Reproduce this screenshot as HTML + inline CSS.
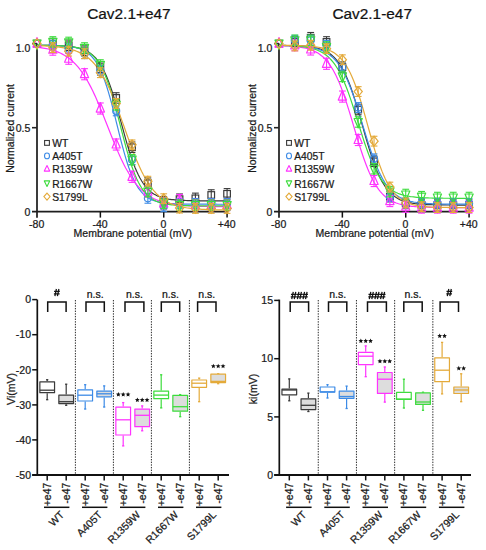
<!DOCTYPE html><html><head><meta charset="utf-8"><style>html,body{margin:0;padding:0;background:#fff;width:486px;height:550px;overflow:hidden}svg{display:block}</style></head><body><svg width="486" height="550" viewBox="0 0 486 550" font-family='"Liberation Sans", sans-serif'>
<style>text{stroke:#1a1a1a;stroke-width:0.24px}</style>
<rect width="486" height="550" fill="#ffffff"/>
<text x="128.9" y="19.2" font-size="15.4" text-anchor="middle" fill="#111" >Cav2.1+e47</text>
<text x="132.8" y="237.1" font-size="10.5" text-anchor="middle" fill="#1a1a1a" >Membrane potential (mV)</text>
<text transform="translate(13.6,128.5) rotate(-90)" font-size="10.5" text-anchor="middle" fill="#1a1a1a">Normalized current</text>
<text x="30.3" y="51.9" font-size="10.5" text-anchor="end" fill="#1a1a1a" >1.0</text>
<text x="30.3" y="131.8" font-size="10.5" text-anchor="end" fill="#1a1a1a" >0.5</text>
<text x="30.3" y="215.7" font-size="10.5" text-anchor="end" fill="#1a1a1a" >0</text>
<text x="36.7" y="227.6" font-size="10.5" text-anchor="middle" fill="#1a1a1a" >-80</text>
<text x="100.06" y="227.6" font-size="10.5" text-anchor="middle" fill="#1a1a1a" >-40</text>
<text x="163.42" y="227.6" font-size="10.5" text-anchor="middle" fill="#1a1a1a" >0</text>
<text x="226.78" y="227.6" font-size="10.5" text-anchor="middle" fill="#1a1a1a" >+40</text>
<line x1="37" y1="43.6" x2="37" y2="217.8" stroke="#262626" stroke-width="1.8" />
<line x1="32" y1="211.7" x2="228.2" y2="211.7" stroke="#1e1e1e" stroke-width="1.7" />
<line x1="32" y1="127.7" x2="37" y2="127.7" stroke="#262626" stroke-width="1.6" />
<line x1="32" y1="43.6" x2="37" y2="43.6" stroke="#262626" stroke-width="1.6" />
<line x1="100.36" y1="211.8" x2="100.36" y2="217.6" stroke="#111" stroke-width="1.5" />
<line x1="163.72" y1="211.8" x2="163.72" y2="217.6" stroke="#111" stroke-width="1.5" />
<line x1="227.08" y1="211.8" x2="227.08" y2="217.6" stroke="#111" stroke-width="1.5" />
<polyline points="37,45.34 38.58,45.35 40.17,45.36 41.75,45.37 43.34,45.38 44.92,45.4 46.5,45.42 48.09,45.44 49.67,45.46 51.26,45.49 52.84,45.53 54.42,45.57 56.01,45.61 57.59,45.67 59.18,45.73 60.76,45.8 62.34,45.88 63.93,45.98 65.51,46.09 67.1,46.22 68.68,46.37 70.26,46.54 71.85,46.75 73.43,46.98 75.02,47.25 76.6,47.56 78.18,47.92 79.77,48.34 81.35,48.82 82.94,49.37 84.52,50.01 86.1,50.75 87.69,51.59 89.27,52.56 90.86,53.66 92.44,54.93 94.02,56.37 95.61,58.01 97.19,59.87 98.78,61.96 100.36,64.32 101.94,66.96 103.53,69.9 105.11,73.15 106.7,76.73 108.28,80.64 109.86,84.88 111.45,89.45 113.03,94.32 114.62,99.46 116.2,104.84 117.78,110.42 119.37,116.13 120.95,121.91 122.54,127.71 124.12,133.46 125.7,139.1 127.29,144.56 128.87,149.81 130.46,154.79 132.04,159.48 133.62,163.85 135.21,167.9 136.79,171.61 138.38,174.99 139.96,178.05 141.54,180.81 143.13,183.27 144.71,185.47 146.3,187.42 147.88,189.15 149.46,190.66 151.05,192 152.63,193.17 154.22,194.19 155.8,195.08 157.38,195.86 158.97,196.53 160.55,197.12 162.14,197.63 163.72,198.07 165.3,198.45 166.89,198.78 168.47,199.07 170.06,199.31 171.64,199.53 173.22,199.71 174.81,199.87 176.39,200.01 177.98,200.13 179.56,200.23 181.14,200.32 182.73,200.39 184.31,200.46 185.9,200.52 187.48,200.56 189.06,200.61 190.65,200.64 192.23,200.67 193.82,200.7 195.4,200.72 196.98,200.74 198.57,200.76 200.15,200.78 201.74,200.79 203.32,200.8 204.9,200.81 206.49,200.82 208.07,200.82 209.66,200.83 211.24,200.83 212.82,200.84 214.41,200.84 215.99,200.85 217.58,200.85 219.16,200.85 220.74,200.85 222.33,200.86 223.91,200.86 225.5,200.86 227.08,200.86" fill="none" stroke="#3a3a3a" stroke-width="1.2"/>
<polyline points="37,45.33 38.58,45.34 40.17,45.35 41.75,45.36 43.34,45.37 44.92,45.39 46.5,45.4 48.09,45.42 49.67,45.45 51.26,45.48 52.84,45.51 54.42,45.55 56.01,45.6 57.59,45.66 59.18,45.72 60.76,45.8 62.34,45.89 63.93,45.99 65.51,46.12 67.1,46.26 68.68,46.43 70.26,46.63 71.85,46.87 73.43,47.14 75.02,47.46 76.6,47.84 78.18,48.28 79.77,48.79 81.35,49.39 82.94,50.09 84.52,50.9 86.1,51.84 87.69,52.94 89.27,54.2 90.86,55.66 92.44,57.34 94.02,59.26 95.61,61.46 97.19,63.96 98.78,66.79 100.36,69.97 101.94,73.52 103.53,77.46 105.11,81.8 106.7,86.53 108.28,91.65 109.86,97.12 111.45,102.9 113.03,108.95 114.62,115.19 116.2,121.55 117.78,127.96 119.37,134.32 120.95,140.57 122.54,146.61 124.12,152.4 125.7,157.86 127.29,162.98 128.87,167.71 130.46,172.05 132.04,175.99 133.62,179.54 135.21,182.72 136.79,185.55 138.38,188.05 139.96,190.25 141.54,192.17 143.13,193.85 144.71,195.31 146.3,196.58 147.88,197.67 149.46,198.61 151.05,199.42 152.63,200.12 154.22,200.72 155.8,201.23 157.38,201.67 158.97,202.05 160.55,202.37 162.14,202.64 163.72,202.88 165.3,203.08 166.89,203.25 168.47,203.39 170.06,203.52 171.64,203.62 173.22,203.71 174.81,203.79 176.39,203.86 177.98,203.91 179.56,203.96 181.14,204 182.73,204.03 184.31,204.06 185.9,204.09 187.48,204.11 189.06,204.13 190.65,204.14 192.23,204.16 193.82,204.17 195.4,204.18 196.98,204.18 198.57,204.19 200.15,204.2 201.74,204.2 203.32,204.21 204.9,204.21 206.49,204.21 208.07,204.22 209.66,204.22 211.24,204.22 212.82,204.22 214.41,204.22 215.99,204.22 217.58,204.23 219.16,204.23 220.74,204.23 222.33,204.23 223.91,204.23 225.5,204.23 227.08,204.23" fill="none" stroke="#3d8be6" stroke-width="1.2"/>
<polyline points="37,47.15 38.58,47.34 40.17,47.55 41.75,47.79 43.34,48.05 44.92,48.33 46.5,48.65 48.09,48.99 49.67,49.37 51.26,49.79 52.84,50.25 54.42,50.76 56.01,51.31 57.59,51.92 59.18,52.58 60.76,53.31 62.34,54.11 63.93,54.98 65.51,55.94 67.1,56.98 68.68,58.11 70.26,59.34 71.85,60.68 73.43,62.13 75.02,63.7 76.6,65.39 78.18,67.22 79.77,69.19 81.35,71.3 82.94,73.55 84.52,75.96 86.1,78.52 87.69,81.24 89.27,84.11 90.86,87.14 92.44,90.31 94.02,93.63 95.61,97.09 97.19,100.67 98.78,104.36 100.36,108.15 101.94,112.03 103.53,115.98 105.11,119.97 106.7,124 108.28,128.04 109.86,132.06 111.45,136.06 113.03,140 114.62,143.88 116.2,147.68 117.78,151.37 119.37,154.95 120.95,158.4 122.54,161.72 124.12,164.9 125.7,167.92 127.29,170.79 128.87,173.51 130.46,176.07 132.04,178.48 133.62,180.74 135.21,182.85 136.79,184.81 138.38,186.64 139.96,188.34 141.54,189.91 143.13,191.36 144.71,192.7 146.3,193.93 147.88,195.06 149.46,196.1 151.05,197.05 152.63,197.92 154.22,198.72 155.8,199.45 157.38,200.12 158.97,200.73 160.55,201.28 162.14,201.79 163.72,202.25 165.3,202.66 166.89,203.04 168.47,203.39 170.06,203.7 171.64,203.99 173.22,204.25 174.81,204.48 176.39,204.7 177.98,204.89 179.56,205.07 181.14,205.22 182.73,205.37 184.31,205.5 185.9,205.62 187.48,205.73 189.06,205.82 190.65,205.91 192.23,205.99 193.82,206.06 195.4,206.13 196.98,206.19 198.57,206.24 200.15,206.29 201.74,206.33 203.32,206.37 204.9,206.41 206.49,206.44 208.07,206.47 209.66,206.5 211.24,206.52 212.82,206.55 214.41,206.57 215.99,206.58 217.58,206.6 219.16,206.61 220.74,206.63 222.33,206.64 223.91,206.65 225.5,206.66 227.08,206.67" fill="none" stroke="#ff33ff" stroke-width="1.2"/>
<polyline points="37,45.33 38.58,45.34 40.17,45.35 41.75,45.36 43.34,45.37 44.92,45.39 46.5,45.41 48.09,45.43 49.67,45.45 51.26,45.48 52.84,45.51 54.42,45.55 56.01,45.59 57.59,45.64 59.18,45.7 60.76,45.77 62.34,45.86 63.93,45.95 65.51,46.06 67.1,46.19 68.68,46.34 70.26,46.52 71.85,46.72 73.43,46.96 75.02,47.23 76.6,47.55 78.18,47.92 79.77,48.35 81.35,48.85 82.94,49.43 84.52,50.1 86.1,50.87 87.69,51.76 89.27,52.79 90.86,53.97 92.44,55.32 94.02,56.87 95.61,58.64 97.19,60.65 98.78,62.93 100.36,65.49 101.94,68.37 103.53,71.58 105.11,75.14 106.7,79.06 108.28,83.35 109.86,88 111.45,92.99 113.03,98.31 114.62,103.91 116.2,109.75 117.78,115.76 119.37,121.89 120.95,128.07 122.54,134.21 124.12,140.26 125.7,146.14 127.29,151.79 128.87,157.16 130.46,162.23 132.04,166.94 133.62,171.3 135.21,175.3 136.79,178.93 138.38,182.21 139.96,185.15 141.54,187.78 143.13,190.11 144.71,192.17 146.3,193.99 147.88,195.58 149.46,196.97 151.05,198.18 152.63,199.24 154.22,200.16 155.8,200.95 157.38,201.64 158.97,202.24 160.55,202.75 162.14,203.19 163.72,203.58 165.3,203.9 166.89,204.19 168.47,204.43 170.06,204.64 171.64,204.82 173.22,204.98 174.81,205.11 176.39,205.22 177.98,205.32 179.56,205.41 181.14,205.48 182.73,205.54 184.31,205.59 185.9,205.64 187.48,205.68 189.06,205.71 190.65,205.74 192.23,205.76 193.82,205.79 195.4,205.8 196.98,205.82 198.57,205.83 200.15,205.84 201.74,205.85 203.32,205.86 204.9,205.87 206.49,205.88 208.07,205.88 209.66,205.89 211.24,205.89 212.82,205.89 214.41,205.9 215.99,205.9 217.58,205.9 219.16,205.9 220.74,205.9 222.33,205.91 223.91,205.91 225.5,205.91 227.08,205.91" fill="none" stroke="#3ddc3d" stroke-width="1.2"/>
<polyline points="37,45.69 38.58,45.74 40.17,45.79 41.75,45.85 43.34,45.91 44.92,45.98 46.5,46.06 48.09,46.15 49.67,46.25 51.26,46.36 52.84,46.48 54.42,46.62 56.01,46.77 57.59,46.94 59.18,47.13 60.76,47.34 62.34,47.58 63.93,47.83 65.51,48.12 67.1,48.44 68.68,48.8 70.26,49.19 71.85,49.63 73.43,50.11 75.02,50.65 76.6,51.24 78.18,51.9 79.77,52.63 81.35,53.43 82.94,54.31 84.52,55.29 86.1,56.36 87.69,57.54 89.27,58.83 90.86,60.24 92.44,61.79 94.02,63.48 95.61,65.31 97.19,67.3 98.78,69.46 100.36,71.79 101.94,74.3 103.53,76.99 105.11,79.87 106.7,82.93 108.28,86.18 109.86,89.61 111.45,93.22 113.03,97 114.62,100.93 116.2,105.01 117.78,109.21 119.37,113.51 120.95,117.89 122.54,122.33 124.12,126.8 125.7,131.28 127.29,135.74 128.87,140.15 130.46,144.48 132.04,148.73 133.62,152.85 135.21,156.84 136.79,160.69 138.38,164.36 139.96,167.87 141.54,171.19 143.13,174.33 144.71,177.28 146.3,180.05 147.88,182.63 149.46,185.03 151.05,187.25 152.63,189.31 154.22,191.21 155.8,192.95 157.38,194.55 158.97,196.02 160.55,197.36 162.14,198.58 163.72,199.7 165.3,200.71 166.89,201.63 168.47,202.46 170.06,203.22 171.64,203.9 173.22,204.52 174.81,205.08 176.39,205.58 177.98,206.04 179.56,206.45 181.14,206.82 182.73,207.15 184.31,207.45 185.9,207.72 187.48,207.97 189.06,208.19 190.65,208.38 192.23,208.56 193.82,208.72 195.4,208.86 196.98,208.99 198.57,209.11 200.15,209.21 201.74,209.3 203.32,209.39 204.9,209.46 206.49,209.53 208.07,209.59 209.66,209.64 211.24,209.69 212.82,209.74 214.41,209.78 215.99,209.81 217.58,209.84 219.16,209.87 220.74,209.9 222.33,209.92 223.91,209.94 225.5,209.96 227.08,209.97" fill="none" stroke="#e4aa3a" stroke-width="1.2"/>
<rect x="33.7" y="40.3" width="6.6" height="6.6" fill="none" stroke="#3a3a3a" stroke-width="1.2"/>
<line x1="52.84" y1="38.38" x2="52.84" y2="48.82" stroke="#3a3a3a" stroke-width="1.1" />
<line x1="49.44" y1="38.38" x2="56.24" y2="38.38" stroke="#3a3a3a" stroke-width="1.1" />
<line x1="49.44" y1="48.82" x2="56.24" y2="48.82" stroke="#3a3a3a" stroke-width="1.1" />
<rect x="49.54" y="40.3" width="6.6" height="6.6" fill="none" stroke="#3a3a3a" stroke-width="1.2"/>
<line x1="68.68" y1="40.06" x2="68.68" y2="50.5" stroke="#3a3a3a" stroke-width="1.1" />
<line x1="65.28" y1="40.06" x2="72.08" y2="40.06" stroke="#3a3a3a" stroke-width="1.1" />
<line x1="65.28" y1="50.5" x2="72.08" y2="50.5" stroke="#3a3a3a" stroke-width="1.1" />
<rect x="65.38" y="41.98" width="6.6" height="6.6" fill="none" stroke="#3a3a3a" stroke-width="1.2"/>
<line x1="84.52" y1="45.11" x2="84.52" y2="55.55" stroke="#3a3a3a" stroke-width="1.1" />
<line x1="81.12" y1="45.11" x2="87.92" y2="45.11" stroke="#3a3a3a" stroke-width="1.1" />
<line x1="81.12" y1="55.55" x2="87.92" y2="55.55" stroke="#3a3a3a" stroke-width="1.1" />
<rect x="81.22" y="47.03" width="6.6" height="6.6" fill="none" stroke="#3a3a3a" stroke-width="1.2"/>
<line x1="100.36" y1="61.93" x2="100.36" y2="72.37" stroke="#3a3a3a" stroke-width="1.1" />
<line x1="96.96" y1="61.93" x2="103.76" y2="61.93" stroke="#3a3a3a" stroke-width="1.1" />
<line x1="96.96" y1="72.37" x2="103.76" y2="72.37" stroke="#3a3a3a" stroke-width="1.1" />
<rect x="97.06" y="63.85" width="6.6" height="6.6" fill="none" stroke="#3a3a3a" stroke-width="1.2"/>
<line x1="116.2" y1="92.71" x2="116.2" y2="103.15" stroke="#3a3a3a" stroke-width="1.1" />
<line x1="112.8" y1="92.71" x2="119.6" y2="92.71" stroke="#3a3a3a" stroke-width="1.1" />
<line x1="112.8" y1="103.15" x2="119.6" y2="103.15" stroke="#3a3a3a" stroke-width="1.1" />
<rect x="112.9" y="94.63" width="6.6" height="6.6" fill="none" stroke="#3a3a3a" stroke-width="1.2"/>
<line x1="132.04" y1="141.99" x2="132.04" y2="152.43" stroke="#3a3a3a" stroke-width="1.1" />
<line x1="128.64" y1="141.99" x2="135.44" y2="141.99" stroke="#3a3a3a" stroke-width="1.1" />
<line x1="128.64" y1="152.43" x2="135.44" y2="152.43" stroke="#3a3a3a" stroke-width="1.1" />
<rect x="128.74" y="143.91" width="6.6" height="6.6" fill="none" stroke="#3a3a3a" stroke-width="1.2"/>
<line x1="147.88" y1="177.99" x2="147.88" y2="188.42" stroke="#3a3a3a" stroke-width="1.1" />
<line x1="144.48" y1="177.99" x2="151.28" y2="177.99" stroke="#3a3a3a" stroke-width="1.1" />
<line x1="144.48" y1="188.42" x2="151.28" y2="188.42" stroke="#3a3a3a" stroke-width="1.1" />
<rect x="144.58" y="179.91" width="6.6" height="6.6" fill="none" stroke="#3a3a3a" stroke-width="1.2"/>
<line x1="163.72" y1="196.49" x2="163.72" y2="206.93" stroke="#3a3a3a" stroke-width="1.1" />
<line x1="160.32" y1="196.49" x2="167.12" y2="196.49" stroke="#3a3a3a" stroke-width="1.1" />
<line x1="160.32" y1="206.93" x2="167.12" y2="206.93" stroke="#3a3a3a" stroke-width="1.1" />
<rect x="160.42" y="198.41" width="6.6" height="6.6" fill="none" stroke="#3a3a3a" stroke-width="1.2"/>
<line x1="179.56" y1="193.97" x2="179.56" y2="204.4" stroke="#3a3a3a" stroke-width="1.1" />
<line x1="176.16" y1="193.97" x2="182.96" y2="193.97" stroke="#3a3a3a" stroke-width="1.1" />
<line x1="176.16" y1="204.4" x2="182.96" y2="204.4" stroke="#3a3a3a" stroke-width="1.1" />
<rect x="176.26" y="195.88" width="6.6" height="6.6" fill="none" stroke="#3a3a3a" stroke-width="1.2"/>
<line x1="195.4" y1="193.13" x2="195.4" y2="203.56" stroke="#3a3a3a" stroke-width="1.1" />
<line x1="192" y1="193.13" x2="198.8" y2="193.13" stroke="#3a3a3a" stroke-width="1.1" />
<line x1="192" y1="203.56" x2="198.8" y2="203.56" stroke="#3a3a3a" stroke-width="1.1" />
<rect x="192.1" y="195.04" width="6.6" height="6.6" fill="none" stroke="#3a3a3a" stroke-width="1.2"/>
<line x1="211.24" y1="189.76" x2="211.24" y2="200.2" stroke="#3a3a3a" stroke-width="1.1" />
<line x1="207.84" y1="189.76" x2="214.64" y2="189.76" stroke="#3a3a3a" stroke-width="1.1" />
<line x1="207.84" y1="200.2" x2="214.64" y2="200.2" stroke="#3a3a3a" stroke-width="1.1" />
<rect x="207.94" y="191.68" width="6.6" height="6.6" fill="none" stroke="#3a3a3a" stroke-width="1.2"/>
<line x1="227.08" y1="188.58" x2="227.08" y2="199.02" stroke="#3a3a3a" stroke-width="1.1" />
<line x1="223.68" y1="188.58" x2="230.48" y2="188.58" stroke="#3a3a3a" stroke-width="1.1" />
<line x1="223.68" y1="199.02" x2="230.48" y2="199.02" stroke="#3a3a3a" stroke-width="1.1" />
<rect x="223.78" y="190.5" width="6.6" height="6.6" fill="none" stroke="#3a3a3a" stroke-width="1.2"/>
<ellipse cx="37" cy="43.6" rx="3.5" ry="3.5" fill="none" stroke="#3d8be6" stroke-width="1.2"/>
<line x1="52.84" y1="40.4" x2="52.84" y2="50.16" stroke="#3d8be6" stroke-width="1.1" />
<line x1="49.44" y1="40.4" x2="56.24" y2="40.4" stroke="#3d8be6" stroke-width="1.1" />
<line x1="49.44" y1="50.16" x2="56.24" y2="50.16" stroke="#3d8be6" stroke-width="1.1" />
<ellipse cx="52.84" cy="45.28" rx="3.5" ry="3.5" fill="none" stroke="#3d8be6" stroke-width="1.2"/>
<line x1="68.68" y1="43.76" x2="68.68" y2="53.53" stroke="#3d8be6" stroke-width="1.1" />
<line x1="65.28" y1="43.76" x2="72.08" y2="43.76" stroke="#3d8be6" stroke-width="1.1" />
<line x1="65.28" y1="53.53" x2="72.08" y2="53.53" stroke="#3d8be6" stroke-width="1.1" />
<ellipse cx="68.68" cy="48.65" rx="3.5" ry="3.5" fill="none" stroke="#3d8be6" stroke-width="1.2"/>
<line x1="84.52" y1="48.81" x2="84.52" y2="58.57" stroke="#3d8be6" stroke-width="1.1" />
<line x1="81.12" y1="48.81" x2="87.92" y2="48.81" stroke="#3d8be6" stroke-width="1.1" />
<line x1="81.12" y1="58.57" x2="87.92" y2="58.57" stroke="#3d8be6" stroke-width="1.1" />
<ellipse cx="84.52" cy="53.69" rx="3.5" ry="3.5" fill="none" stroke="#3d8be6" stroke-width="1.2"/>
<line x1="100.36" y1="65.63" x2="100.36" y2="75.39" stroke="#3d8be6" stroke-width="1.1" />
<line x1="96.96" y1="65.63" x2="103.76" y2="65.63" stroke="#3d8be6" stroke-width="1.1" />
<line x1="96.96" y1="75.39" x2="103.76" y2="75.39" stroke="#3d8be6" stroke-width="1.1" />
<ellipse cx="100.36" cy="70.51" rx="3.5" ry="3.5" fill="none" stroke="#3d8be6" stroke-width="1.2"/>
<line x1="116.2" y1="106" x2="116.2" y2="115.76" stroke="#3d8be6" stroke-width="1.1" />
<line x1="112.8" y1="106" x2="119.6" y2="106" stroke="#3d8be6" stroke-width="1.1" />
<line x1="112.8" y1="115.76" x2="119.6" y2="115.76" stroke="#3d8be6" stroke-width="1.1" />
<ellipse cx="116.2" cy="110.88" rx="3.5" ry="3.5" fill="none" stroke="#3d8be6" stroke-width="1.2"/>
<line x1="132.04" y1="154.78" x2="132.04" y2="164.54" stroke="#3d8be6" stroke-width="1.1" />
<line x1="128.64" y1="154.78" x2="135.44" y2="154.78" stroke="#3d8be6" stroke-width="1.1" />
<line x1="128.64" y1="164.54" x2="135.44" y2="164.54" stroke="#3d8be6" stroke-width="1.1" />
<ellipse cx="132.04" cy="159.66" rx="3.5" ry="3.5" fill="none" stroke="#3d8be6" stroke-width="1.2"/>
<line x1="147.88" y1="193.46" x2="147.88" y2="203.23" stroke="#3d8be6" stroke-width="1.1" />
<line x1="144.48" y1="193.46" x2="151.28" y2="193.46" stroke="#3d8be6" stroke-width="1.1" />
<line x1="144.48" y1="203.23" x2="151.28" y2="203.23" stroke="#3d8be6" stroke-width="1.1" />
<ellipse cx="147.88" cy="198.34" rx="3.5" ry="3.5" fill="none" stroke="#3d8be6" stroke-width="1.2"/>
<line x1="163.72" y1="201.87" x2="163.72" y2="211.64" stroke="#3d8be6" stroke-width="1.1" />
<line x1="160.32" y1="201.87" x2="167.12" y2="201.87" stroke="#3d8be6" stroke-width="1.1" />
<line x1="160.32" y1="211.64" x2="167.12" y2="211.64" stroke="#3d8be6" stroke-width="1.1" />
<ellipse cx="163.72" cy="206.75" rx="3.5" ry="3.5" fill="none" stroke="#3d8be6" stroke-width="1.2"/>
<line x1="179.56" y1="198.51" x2="179.56" y2="208.27" stroke="#3d8be6" stroke-width="1.1" />
<line x1="176.16" y1="198.51" x2="182.96" y2="198.51" stroke="#3d8be6" stroke-width="1.1" />
<line x1="176.16" y1="208.27" x2="182.96" y2="208.27" stroke="#3d8be6" stroke-width="1.1" />
<ellipse cx="179.56" cy="203.39" rx="3.5" ry="3.5" fill="none" stroke="#3d8be6" stroke-width="1.2"/>
<line x1="195.4" y1="198.51" x2="195.4" y2="208.27" stroke="#3d8be6" stroke-width="1.1" />
<line x1="192" y1="198.51" x2="198.8" y2="198.51" stroke="#3d8be6" stroke-width="1.1" />
<line x1="192" y1="208.27" x2="198.8" y2="208.27" stroke="#3d8be6" stroke-width="1.1" />
<ellipse cx="195.4" cy="203.39" rx="3.5" ry="3.5" fill="none" stroke="#3d8be6" stroke-width="1.2"/>
<line x1="211.24" y1="198.51" x2="211.24" y2="208.27" stroke="#3d8be6" stroke-width="1.1" />
<line x1="207.84" y1="198.51" x2="214.64" y2="198.51" stroke="#3d8be6" stroke-width="1.1" />
<line x1="207.84" y1="208.27" x2="214.64" y2="208.27" stroke="#3d8be6" stroke-width="1.1" />
<ellipse cx="211.24" cy="203.39" rx="3.5" ry="3.5" fill="none" stroke="#3d8be6" stroke-width="1.2"/>
<line x1="227.08" y1="198.51" x2="227.08" y2="208.27" stroke="#3d8be6" stroke-width="1.1" />
<line x1="223.68" y1="198.51" x2="230.48" y2="198.51" stroke="#3d8be6" stroke-width="1.1" />
<line x1="223.68" y1="208.27" x2="230.48" y2="208.27" stroke="#3d8be6" stroke-width="1.1" />
<ellipse cx="227.08" cy="203.39" rx="3.5" ry="3.5" fill="none" stroke="#3d8be6" stroke-width="1.2"/>
<path d="M37 37.6 L41.1 47.1 L32.9 47.1 Z" fill="none" stroke="#ff33ff" stroke-width="1.2" stroke-linejoin="round"/>
<line x1="52.84" y1="44.1" x2="52.84" y2="55.21" stroke="#ff33ff" stroke-width="1.1" />
<line x1="49.44" y1="44.1" x2="56.24" y2="44.1" stroke="#ff33ff" stroke-width="1.1" />
<line x1="49.44" y1="55.21" x2="56.24" y2="55.21" stroke="#ff33ff" stroke-width="1.1" />
<path d="M52.84 43.66 L56.94 53.16 L48.74 53.16 Z" fill="none" stroke="#ff33ff" stroke-width="1.2" stroke-linejoin="round"/>
<line x1="68.68" y1="53.18" x2="68.68" y2="64.29" stroke="#ff33ff" stroke-width="1.1" />
<line x1="65.28" y1="53.18" x2="72.08" y2="53.18" stroke="#ff33ff" stroke-width="1.1" />
<line x1="65.28" y1="64.29" x2="72.08" y2="64.29" stroke="#ff33ff" stroke-width="1.1" />
<path d="M68.68 52.74 L72.78 62.24 L64.58 62.24 Z" fill="none" stroke="#ff33ff" stroke-width="1.2" stroke-linejoin="round"/>
<line x1="84.52" y1="68.66" x2="84.52" y2="79.77" stroke="#ff33ff" stroke-width="1.1" />
<line x1="81.12" y1="68.66" x2="87.92" y2="68.66" stroke="#ff33ff" stroke-width="1.1" />
<line x1="81.12" y1="79.77" x2="87.92" y2="79.77" stroke="#ff33ff" stroke-width="1.1" />
<path d="M84.52 68.21 L88.62 77.71 L80.42 77.71 Z" fill="none" stroke="#ff33ff" stroke-width="1.2" stroke-linejoin="round"/>
<line x1="100.36" y1="102.97" x2="100.36" y2="114.08" stroke="#ff33ff" stroke-width="1.1" />
<line x1="96.96" y1="102.97" x2="103.76" y2="102.97" stroke="#ff33ff" stroke-width="1.1" />
<line x1="96.96" y1="114.08" x2="103.76" y2="114.08" stroke="#ff33ff" stroke-width="1.1" />
<path d="M100.36 102.53 L104.46 112.03 L96.26 112.03 Z" fill="none" stroke="#ff33ff" stroke-width="1.2" stroke-linejoin="round"/>
<line x1="116.2" y1="138.97" x2="116.2" y2="150.07" stroke="#ff33ff" stroke-width="1.1" />
<line x1="112.8" y1="138.97" x2="119.6" y2="138.97" stroke="#ff33ff" stroke-width="1.1" />
<line x1="112.8" y1="150.07" x2="119.6" y2="150.07" stroke="#ff33ff" stroke-width="1.1" />
<path d="M116.2 138.52 L120.3 148.02 L112.1 148.02 Z" fill="none" stroke="#ff33ff" stroke-width="1.2" stroke-linejoin="round"/>
<line x1="132.04" y1="171.26" x2="132.04" y2="182.37" stroke="#ff33ff" stroke-width="1.1" />
<line x1="128.64" y1="171.26" x2="135.44" y2="171.26" stroke="#ff33ff" stroke-width="1.1" />
<line x1="128.64" y1="182.37" x2="135.44" y2="182.37" stroke="#ff33ff" stroke-width="1.1" />
<path d="M132.04 170.81 L136.14 180.31 L127.94 180.31 Z" fill="none" stroke="#ff33ff" stroke-width="1.2" stroke-linejoin="round"/>
<line x1="147.88" y1="186.06" x2="147.88" y2="197.17" stroke="#ff33ff" stroke-width="1.1" />
<line x1="144.48" y1="186.06" x2="151.28" y2="186.06" stroke="#ff33ff" stroke-width="1.1" />
<line x1="144.48" y1="197.17" x2="151.28" y2="197.17" stroke="#ff33ff" stroke-width="1.1" />
<path d="M147.88 185.62 L151.98 195.12 L143.78 195.12 Z" fill="none" stroke="#ff33ff" stroke-width="1.2" stroke-linejoin="round"/>
<line x1="163.72" y1="197.84" x2="163.72" y2="208.94" stroke="#ff33ff" stroke-width="1.1" />
<line x1="160.32" y1="197.84" x2="167.12" y2="197.84" stroke="#ff33ff" stroke-width="1.1" />
<line x1="160.32" y1="208.94" x2="167.12" y2="208.94" stroke="#ff33ff" stroke-width="1.1" />
<path d="M163.72 197.39 L167.82 206.89 L159.62 206.89 Z" fill="none" stroke="#ff33ff" stroke-width="1.2" stroke-linejoin="round"/>
<line x1="179.56" y1="194.47" x2="179.56" y2="205.58" stroke="#ff33ff" stroke-width="1.1" />
<line x1="176.16" y1="194.47" x2="182.96" y2="194.47" stroke="#ff33ff" stroke-width="1.1" />
<line x1="176.16" y1="205.58" x2="182.96" y2="205.58" stroke="#ff33ff" stroke-width="1.1" />
<path d="M179.56 194.03 L183.66 203.53 L175.46 203.53 Z" fill="none" stroke="#ff33ff" stroke-width="1.2" stroke-linejoin="round"/>
<line x1="195.4" y1="199.52" x2="195.4" y2="210.63" stroke="#ff33ff" stroke-width="1.1" />
<line x1="192" y1="199.52" x2="198.8" y2="199.52" stroke="#ff33ff" stroke-width="1.1" />
<line x1="192" y1="210.63" x2="198.8" y2="210.63" stroke="#ff33ff" stroke-width="1.1" />
<path d="M195.4 199.07 L199.5 208.57 L191.3 208.57 Z" fill="none" stroke="#ff33ff" stroke-width="1.2" stroke-linejoin="round"/>
<line x1="211.24" y1="199.52" x2="211.24" y2="210.63" stroke="#ff33ff" stroke-width="1.1" />
<line x1="207.84" y1="199.52" x2="214.64" y2="199.52" stroke="#ff33ff" stroke-width="1.1" />
<line x1="207.84" y1="210.63" x2="214.64" y2="210.63" stroke="#ff33ff" stroke-width="1.1" />
<path d="M211.24 199.07 L215.34 208.57 L207.14 208.57 Z" fill="none" stroke="#ff33ff" stroke-width="1.2" stroke-linejoin="round"/>
<line x1="227.08" y1="199.52" x2="227.08" y2="210.63" stroke="#ff33ff" stroke-width="1.1" />
<line x1="223.68" y1="199.52" x2="230.48" y2="199.52" stroke="#ff33ff" stroke-width="1.1" />
<line x1="223.68" y1="210.63" x2="230.48" y2="210.63" stroke="#ff33ff" stroke-width="1.1" />
<path d="M227.08 199.07 L231.18 208.57 L222.98 208.57 Z" fill="none" stroke="#ff33ff" stroke-width="1.2" stroke-linejoin="round"/>
<path d="M37 49.6 L41.1 40.1 L32.9 40.1 Z" fill="none" stroke="#3ddc3d" stroke-width="1.2" stroke-linejoin="round"/>
<line x1="52.84" y1="36.7" x2="52.84" y2="47.14" stroke="#3ddc3d" stroke-width="1.1" />
<line x1="49.44" y1="36.7" x2="56.24" y2="36.7" stroke="#3ddc3d" stroke-width="1.1" />
<line x1="49.44" y1="47.14" x2="56.24" y2="47.14" stroke="#3ddc3d" stroke-width="1.1" />
<path d="M52.84 47.92 L56.94 38.42 L48.74 38.42 Z" fill="none" stroke="#3ddc3d" stroke-width="1.2" stroke-linejoin="round"/>
<line x1="68.68" y1="37.2" x2="68.68" y2="47.64" stroke="#3ddc3d" stroke-width="1.1" />
<line x1="65.28" y1="37.2" x2="72.08" y2="37.2" stroke="#3ddc3d" stroke-width="1.1" />
<line x1="65.28" y1="47.64" x2="72.08" y2="47.64" stroke="#3ddc3d" stroke-width="1.1" />
<path d="M68.68 48.42 L72.78 38.92 L64.58 38.92 Z" fill="none" stroke="#3ddc3d" stroke-width="1.2" stroke-linejoin="round"/>
<line x1="84.52" y1="42.75" x2="84.52" y2="53.19" stroke="#3ddc3d" stroke-width="1.1" />
<line x1="81.12" y1="42.75" x2="87.92" y2="42.75" stroke="#3ddc3d" stroke-width="1.1" />
<line x1="81.12" y1="53.19" x2="87.92" y2="53.19" stroke="#3ddc3d" stroke-width="1.1" />
<path d="M84.52 53.97 L88.62 44.47 L80.42 44.47 Z" fill="none" stroke="#3ddc3d" stroke-width="1.2" stroke-linejoin="round"/>
<line x1="100.36" y1="59.74" x2="100.36" y2="70.18" stroke="#3ddc3d" stroke-width="1.1" />
<line x1="96.96" y1="59.74" x2="103.76" y2="59.74" stroke="#3ddc3d" stroke-width="1.1" />
<line x1="96.96" y1="70.18" x2="103.76" y2="70.18" stroke="#3ddc3d" stroke-width="1.1" />
<path d="M100.36 70.96 L104.46 61.46 L96.26 61.46 Z" fill="none" stroke="#3ddc3d" stroke-width="1.2" stroke-linejoin="round"/>
<line x1="116.2" y1="99.61" x2="116.2" y2="110.04" stroke="#3ddc3d" stroke-width="1.1" />
<line x1="112.8" y1="99.61" x2="119.6" y2="99.61" stroke="#3ddc3d" stroke-width="1.1" />
<line x1="112.8" y1="110.04" x2="119.6" y2="110.04" stroke="#3ddc3d" stroke-width="1.1" />
<path d="M116.2 110.82 L120.3 101.32 L112.1 101.32 Z" fill="none" stroke="#3ddc3d" stroke-width="1.2" stroke-linejoin="round"/>
<line x1="132.04" y1="154.44" x2="132.04" y2="164.88" stroke="#3ddc3d" stroke-width="1.1" />
<line x1="128.64" y1="154.44" x2="135.44" y2="154.44" stroke="#3ddc3d" stroke-width="1.1" />
<line x1="128.64" y1="164.88" x2="135.44" y2="164.88" stroke="#3ddc3d" stroke-width="1.1" />
<path d="M132.04 165.66 L136.14 156.16 L127.94 156.16 Z" fill="none" stroke="#3ddc3d" stroke-width="1.2" stroke-linejoin="round"/>
<line x1="147.88" y1="186.4" x2="147.88" y2="196.83" stroke="#3ddc3d" stroke-width="1.1" />
<line x1="144.48" y1="186.4" x2="151.28" y2="186.4" stroke="#3ddc3d" stroke-width="1.1" />
<line x1="144.48" y1="196.83" x2="151.28" y2="196.83" stroke="#3ddc3d" stroke-width="1.1" />
<path d="M147.88 197.62 L151.98 188.12 L143.78 188.12 Z" fill="none" stroke="#3ddc3d" stroke-width="1.2" stroke-linejoin="round"/>
<line x1="163.72" y1="198.17" x2="163.72" y2="208.61" stroke="#3ddc3d" stroke-width="1.1" />
<line x1="160.32" y1="198.17" x2="167.12" y2="198.17" stroke="#3ddc3d" stroke-width="1.1" />
<line x1="160.32" y1="208.61" x2="167.12" y2="208.61" stroke="#3ddc3d" stroke-width="1.1" />
<path d="M163.72 209.39 L167.82 199.89 L159.62 199.89 Z" fill="none" stroke="#3ddc3d" stroke-width="1.2" stroke-linejoin="round"/>
<line x1="179.56" y1="199.85" x2="179.56" y2="210.29" stroke="#3ddc3d" stroke-width="1.1" />
<line x1="176.16" y1="199.85" x2="182.96" y2="199.85" stroke="#3ddc3d" stroke-width="1.1" />
<line x1="176.16" y1="210.29" x2="182.96" y2="210.29" stroke="#3ddc3d" stroke-width="1.1" />
<path d="M179.56 211.07 L183.66 201.57 L175.46 201.57 Z" fill="none" stroke="#3ddc3d" stroke-width="1.2" stroke-linejoin="round"/>
<line x1="195.4" y1="199.85" x2="195.4" y2="210.29" stroke="#3ddc3d" stroke-width="1.1" />
<line x1="192" y1="199.85" x2="198.8" y2="199.85" stroke="#3ddc3d" stroke-width="1.1" />
<line x1="192" y1="210.29" x2="198.8" y2="210.29" stroke="#3ddc3d" stroke-width="1.1" />
<path d="M195.4 211.07 L199.5 201.57 L191.3 201.57 Z" fill="none" stroke="#3ddc3d" stroke-width="1.2" stroke-linejoin="round"/>
<line x1="211.24" y1="199.85" x2="211.24" y2="210.29" stroke="#3ddc3d" stroke-width="1.1" />
<line x1="207.84" y1="199.85" x2="214.64" y2="199.85" stroke="#3ddc3d" stroke-width="1.1" />
<line x1="207.84" y1="210.29" x2="214.64" y2="210.29" stroke="#3ddc3d" stroke-width="1.1" />
<path d="M211.24 211.07 L215.34 201.57 L207.14 201.57 Z" fill="none" stroke="#3ddc3d" stroke-width="1.2" stroke-linejoin="round"/>
<line x1="227.08" y1="199.85" x2="227.08" y2="210.29" stroke="#3ddc3d" stroke-width="1.1" />
<line x1="223.68" y1="199.85" x2="230.48" y2="199.85" stroke="#3ddc3d" stroke-width="1.1" />
<line x1="223.68" y1="210.29" x2="230.48" y2="210.29" stroke="#3ddc3d" stroke-width="1.1" />
<path d="M227.08 211.07 L231.18 201.57 L222.98 201.57 Z" fill="none" stroke="#3ddc3d" stroke-width="1.2" stroke-linejoin="round"/>
<path d="M37 38.7 L41.1 43.6 L37 48.5 L32.9 43.6 Z" fill="none" stroke="#e4aa3a" stroke-width="1.2"/>
<line x1="52.84" y1="42.75" x2="52.84" y2="52.52" stroke="#e4aa3a" stroke-width="1.1" />
<line x1="49.44" y1="42.75" x2="56.24" y2="42.75" stroke="#e4aa3a" stroke-width="1.1" />
<line x1="49.44" y1="52.52" x2="56.24" y2="52.52" stroke="#e4aa3a" stroke-width="1.1" />
<path d="M52.84 42.74 L56.94 47.64 L52.84 52.54 L48.74 47.64 Z" fill="none" stroke="#e4aa3a" stroke-width="1.2"/>
<line x1="68.68" y1="46.29" x2="68.68" y2="56.05" stroke="#e4aa3a" stroke-width="1.1" />
<line x1="65.28" y1="46.29" x2="72.08" y2="46.29" stroke="#e4aa3a" stroke-width="1.1" />
<line x1="65.28" y1="56.05" x2="72.08" y2="56.05" stroke="#e4aa3a" stroke-width="1.1" />
<path d="M68.68 46.27 L72.78 51.17 L68.68 56.07 L64.58 51.17 Z" fill="none" stroke="#e4aa3a" stroke-width="1.2"/>
<line x1="84.52" y1="48.81" x2="84.52" y2="58.57" stroke="#e4aa3a" stroke-width="1.1" />
<line x1="81.12" y1="48.81" x2="87.92" y2="48.81" stroke="#e4aa3a" stroke-width="1.1" />
<line x1="81.12" y1="58.57" x2="87.92" y2="58.57" stroke="#e4aa3a" stroke-width="1.1" />
<path d="M84.52 48.79 L88.62 53.69 L84.52 58.59 L80.42 53.69 Z" fill="none" stroke="#e4aa3a" stroke-width="1.2"/>
<line x1="100.36" y1="67.82" x2="100.36" y2="77.58" stroke="#e4aa3a" stroke-width="1.1" />
<line x1="96.96" y1="67.82" x2="103.76" y2="67.82" stroke="#e4aa3a" stroke-width="1.1" />
<line x1="96.96" y1="77.58" x2="103.76" y2="77.58" stroke="#e4aa3a" stroke-width="1.1" />
<path d="M100.36 67.8 L104.46 72.7 L100.36 77.6 L96.26 72.7 Z" fill="none" stroke="#e4aa3a" stroke-width="1.2"/>
<line x1="116.2" y1="98.6" x2="116.2" y2="108.36" stroke="#e4aa3a" stroke-width="1.1" />
<line x1="112.8" y1="98.6" x2="119.6" y2="98.6" stroke="#e4aa3a" stroke-width="1.1" />
<line x1="112.8" y1="108.36" x2="119.6" y2="108.36" stroke="#e4aa3a" stroke-width="1.1" />
<path d="M116.2 98.58 L120.3 103.48 L116.2 108.38 L112.1 103.48 Z" fill="none" stroke="#e4aa3a" stroke-width="1.2"/>
<line x1="132.04" y1="139.97" x2="132.04" y2="149.74" stroke="#e4aa3a" stroke-width="1.1" />
<line x1="128.64" y1="139.97" x2="135.44" y2="139.97" stroke="#e4aa3a" stroke-width="1.1" />
<line x1="128.64" y1="149.74" x2="135.44" y2="149.74" stroke="#e4aa3a" stroke-width="1.1" />
<path d="M132.04 139.96 L136.14 144.86 L132.04 149.76 L127.94 144.86 Z" fill="none" stroke="#e4aa3a" stroke-width="1.2"/>
<line x1="147.88" y1="176.31" x2="147.88" y2="186.07" stroke="#e4aa3a" stroke-width="1.1" />
<line x1="144.48" y1="176.31" x2="151.28" y2="176.31" stroke="#e4aa3a" stroke-width="1.1" />
<line x1="144.48" y1="186.07" x2="151.28" y2="186.07" stroke="#e4aa3a" stroke-width="1.1" />
<path d="M147.88 176.29 L151.98 181.19 L147.88 186.09 L143.78 181.19 Z" fill="none" stroke="#e4aa3a" stroke-width="1.2"/>
<line x1="163.72" y1="193.8" x2="163.72" y2="203.56" stroke="#e4aa3a" stroke-width="1.1" />
<line x1="160.32" y1="193.8" x2="167.12" y2="193.8" stroke="#e4aa3a" stroke-width="1.1" />
<line x1="160.32" y1="203.56" x2="167.12" y2="203.56" stroke="#e4aa3a" stroke-width="1.1" />
<path d="M163.72 193.78 L167.82 198.68 L163.72 203.58 L159.62 198.68 Z" fill="none" stroke="#e4aa3a" stroke-width="1.2"/>
<line x1="179.56" y1="203.22" x2="179.56" y2="212.98" stroke="#e4aa3a" stroke-width="1.1" />
<line x1="176.16" y1="203.22" x2="182.96" y2="203.22" stroke="#e4aa3a" stroke-width="1.1" />
<line x1="176.16" y1="212.98" x2="182.96" y2="212.98" stroke="#e4aa3a" stroke-width="1.1" />
<path d="M179.56 203.2 L183.66 208.1 L179.56 213 L175.46 208.1 Z" fill="none" stroke="#e4aa3a" stroke-width="1.2"/>
<line x1="195.4" y1="203.55" x2="195.4" y2="213.32" stroke="#e4aa3a" stroke-width="1.1" />
<line x1="192" y1="203.55" x2="198.8" y2="203.55" stroke="#e4aa3a" stroke-width="1.1" />
<line x1="192" y1="213.32" x2="198.8" y2="213.32" stroke="#e4aa3a" stroke-width="1.1" />
<path d="M195.4 203.54 L199.5 208.44 L195.4 213.34 L191.3 208.44 Z" fill="none" stroke="#e4aa3a" stroke-width="1.2"/>
<line x1="211.24" y1="203.55" x2="211.24" y2="213.32" stroke="#e4aa3a" stroke-width="1.1" />
<line x1="207.84" y1="203.55" x2="214.64" y2="203.55" stroke="#e4aa3a" stroke-width="1.1" />
<line x1="207.84" y1="213.32" x2="214.64" y2="213.32" stroke="#e4aa3a" stroke-width="1.1" />
<path d="M211.24 203.54 L215.34 208.44 L211.24 213.34 L207.14 208.44 Z" fill="none" stroke="#e4aa3a" stroke-width="1.2"/>
<line x1="227.08" y1="203.55" x2="227.08" y2="213.32" stroke="#e4aa3a" stroke-width="1.1" />
<line x1="223.68" y1="203.55" x2="230.48" y2="203.55" stroke="#e4aa3a" stroke-width="1.1" />
<line x1="223.68" y1="213.32" x2="230.48" y2="213.32" stroke="#e4aa3a" stroke-width="1.1" />
<path d="M227.08 203.54 L231.18 208.44 L227.08 213.34 L222.98 208.44 Z" fill="none" stroke="#e4aa3a" stroke-width="1.2"/>
<rect x="44.6" y="140.5" width="4.8" height="4.8" fill="none" stroke="#3a3a3a" stroke-width="1.1"/>
<text x="52.2" y="147" font-size="10.3" text-anchor="start" fill="#1a1a1a" >WT</text>
<ellipse cx="47" cy="155.9" rx="2.5" ry="2.9" fill="none" stroke="#3d8be6" stroke-width="1.1"/>
<text x="52.2" y="160" font-size="10.3" text-anchor="start" fill="#1a1a1a" >A405T</text>
<path d="M47 165.5 L49.7 171.1 L44.3 171.1 Z" fill="none" stroke="#ff33ff" stroke-width="1.1" stroke-linejoin="round"/>
<text x="52.2" y="172.7" font-size="10.3" text-anchor="start" fill="#1a1a1a" >R1359W</text>
<path d="M47 186.5 L49.7 180.9 L44.3 180.9 Z" fill="none" stroke="#3ddc3d" stroke-width="1.1" stroke-linejoin="round"/>
<text x="52.2" y="187.5" font-size="10.3" text-anchor="start" fill="#1a1a1a" >R1667W</text>
<path d="M47 193.1 L50.1 196.6 L47 200.1 L43.9 196.6 Z" fill="none" stroke="#e4aa3a" stroke-width="1.1"/>
<text x="52.2" y="200.7" font-size="10.3" text-anchor="start" fill="#1a1a1a" >S1799L</text>
<text x="372.2" y="19.2" font-size="15.4" text-anchor="middle" fill="#111" >Cav2.1-e47</text>
<text x="374.8" y="237.1" font-size="10.5" text-anchor="middle" fill="#1a1a1a" >Membrane potential (mV)</text>
<text transform="translate(255.6,128.5) rotate(-90)" font-size="10.5" text-anchor="middle" fill="#1a1a1a">Normalized current</text>
<text x="272.3" y="51.9" font-size="10.5" text-anchor="end" fill="#1a1a1a" >1.0</text>
<text x="272.3" y="131.8" font-size="10.5" text-anchor="end" fill="#1a1a1a" >0.5</text>
<text x="272.3" y="215.7" font-size="10.5" text-anchor="end" fill="#1a1a1a" >0</text>
<text x="278.7" y="227.6" font-size="10.5" text-anchor="middle" fill="#1a1a1a" >-80</text>
<text x="342.06" y="227.6" font-size="10.5" text-anchor="middle" fill="#1a1a1a" >-40</text>
<text x="405.42" y="227.6" font-size="10.5" text-anchor="middle" fill="#1a1a1a" >0</text>
<text x="468.78" y="227.6" font-size="10.5" text-anchor="middle" fill="#1a1a1a" >+40</text>
<line x1="279" y1="43.6" x2="279" y2="217.8" stroke="#262626" stroke-width="1.8" />
<line x1="274" y1="211.7" x2="470.2" y2="211.7" stroke="#1e1e1e" stroke-width="1.7" />
<line x1="274" y1="127.7" x2="279" y2="127.7" stroke="#262626" stroke-width="1.6" />
<line x1="274" y1="43.6" x2="279" y2="43.6" stroke="#262626" stroke-width="1.6" />
<line x1="342.36" y1="211.8" x2="342.36" y2="217.6" stroke="#111" stroke-width="1.5" />
<line x1="405.72" y1="211.8" x2="405.72" y2="217.6" stroke="#111" stroke-width="1.5" />
<line x1="469.08" y1="211.8" x2="469.08" y2="217.6" stroke="#111" stroke-width="1.5" />
<polyline points="279,45.38 280.58,45.39 282.17,45.41 283.75,45.43 285.34,45.45 286.92,45.48 288.5,45.51 290.09,45.54 291.67,45.58 293.26,45.63 294.84,45.68 296.42,45.74 298.01,45.81 299.59,45.88 301.18,45.97 302.76,46.08 304.34,46.2 305.93,46.34 307.51,46.49 309.1,46.68 310.68,46.89 312.26,47.13 313.85,47.4 315.43,47.72 317.02,48.08 318.6,48.49 320.18,48.97 321.77,49.51 323.35,50.13 324.94,50.84 326.52,51.64 328.1,52.56 329.69,53.6 331.27,54.79 332.86,56.13 334.44,57.64 336.02,59.35 337.61,61.26 339.19,63.4 340.78,65.79 342.36,68.45 343.94,71.38 345.53,74.6 347.11,78.12 348.7,81.95 350.28,86.08 351.86,90.5 353.45,95.21 355.03,100.16 356.62,105.35 358.2,110.71 359.78,116.21 361.37,121.8 362.95,127.43 364.54,133.03 366.12,138.55 367.7,143.95 369.29,149.17 370.87,154.18 372.46,158.93 374.04,163.41 375.62,167.6 377.21,171.49 378.79,175.07 380.38,178.36 381.96,181.34 383.54,184.05 385.13,186.49 386.71,188.68 388.3,190.64 389.88,192.39 391.46,193.94 393.05,195.31 394.63,196.52 396.22,197.59 397.8,198.54 399.38,199.36 400.97,200.09 402.55,200.73 404.14,201.29 405.72,201.77 407.3,202.2 408.89,202.57 410.47,202.89 412.06,203.18 413.64,203.42 415.22,203.64 416.81,203.82 418.39,203.99 419.98,204.13 421.56,204.25 423.14,204.36 424.73,204.45 426.31,204.53 427.9,204.6 429.48,204.67 431.06,204.72 432.65,204.77 434.23,204.81 435.82,204.84 437.4,204.87 438.98,204.9 440.57,204.92 442.15,204.94 443.74,204.96 445.32,204.97 446.9,204.99 448.49,205 450.07,205.01 451.66,205.02 453.24,205.02 454.82,205.03 456.41,205.03 457.99,205.04 459.58,205.04 461.16,205.05 462.74,205.05 464.33,205.05 465.91,205.06 467.5,205.06 469.08,205.06" fill="none" stroke="#3a3a3a" stroke-width="1.2"/>
<polyline points="279,45.43 280.58,45.46 282.17,45.48 283.75,45.51 285.34,45.54 286.92,45.58 288.5,45.62 290.09,45.66 291.67,45.72 293.26,45.78 294.84,45.85 296.42,45.93 298.01,46.02 299.59,46.12 301.18,46.24 302.76,46.37 304.34,46.53 305.93,46.7 307.51,46.9 309.1,47.12 310.68,47.38 312.26,47.67 313.85,48 315.43,48.37 317.02,48.8 318.6,49.28 320.18,49.82 321.77,50.44 323.35,51.14 324.94,51.93 326.52,52.82 328.1,53.82 329.69,54.95 331.27,56.22 332.86,57.64 334.44,59.22 336.02,60.99 337.61,62.95 339.19,65.13 340.78,67.53 342.36,70.16 343.94,73.05 345.53,76.2 347.11,79.61 348.7,83.28 350.28,87.21 351.86,91.4 353.45,95.82 355.03,100.46 356.62,105.29 358.2,110.28 359.78,115.39 361.37,120.58 362.95,125.8 364.54,131.02 366.12,136.18 367.7,141.25 369.29,146.17 370.87,150.93 372.46,155.49 374.04,159.82 375.62,163.9 377.21,167.74 378.79,171.3 380.38,174.61 381.96,177.65 383.54,180.43 385.13,182.98 386.71,185.28 388.3,187.37 389.88,189.25 391.46,190.95 393.05,192.46 394.63,193.82 396.22,195.03 397.8,196.11 399.38,197.06 400.97,197.91 402.55,198.66 404.14,199.33 405.72,199.92 407.3,200.44 408.89,200.89 410.47,201.3 412.06,201.65 413.64,201.97 415.22,202.24 416.81,202.48 418.39,202.7 419.98,202.89 421.56,203.05 423.14,203.19 424.73,203.32 426.31,203.43 427.9,203.53 429.48,203.62 431.06,203.69 432.65,203.76 434.23,203.82 435.82,203.87 437.4,203.91 438.98,203.95 440.57,203.99 442.15,204.02 443.74,204.04 445.32,204.07 446.9,204.09 448.49,204.1 450.07,204.12 451.66,204.13 453.24,204.15 454.82,204.16 456.41,204.17 457.99,204.17 459.58,204.18 461.16,204.19 462.74,204.19 464.33,204.2 465.91,204.2 467.5,204.2 469.08,204.21" fill="none" stroke="#3d8be6" stroke-width="1.2"/>
<polyline points="279,45.61 280.58,45.65 282.17,45.7 283.75,45.76 285.34,45.83 286.92,45.91 288.5,46 290.09,46.1 291.67,46.21 293.26,46.34 294.84,46.49 296.42,46.66 298.01,46.85 299.59,47.07 301.18,47.31 302.76,47.59 304.34,47.91 305.93,48.28 307.51,48.69 309.1,49.16 310.68,49.69 312.26,50.29 313.85,50.97 315.43,51.74 317.02,52.6 318.6,53.58 320.18,54.68 321.77,55.91 323.35,57.3 324.94,58.85 326.52,60.58 328.1,62.5 329.69,64.63 331.27,66.99 332.86,69.58 334.44,72.43 336.02,75.53 337.61,78.91 339.19,82.55 340.78,86.46 342.36,90.63 343.94,95.06 345.53,99.71 347.11,104.57 348.7,109.6 350.28,114.77 351.86,120.04 353.45,125.37 355.03,130.71 356.62,136 358.2,141.22 359.78,146.32 361.37,151.25 362.95,155.99 364.54,160.5 366.12,164.78 367.7,168.79 369.29,172.54 370.87,176.03 372.46,179.24 374.04,182.19 375.62,184.88 377.21,187.33 378.79,189.55 380.38,191.56 381.96,193.36 383.54,194.98 385.13,196.43 386.71,197.72 388.3,198.87 389.88,199.9 391.46,200.81 393.05,201.61 394.63,202.33 396.22,202.96 397.8,203.51 399.38,204.01 400.97,204.44 402.55,204.82 404.14,205.16 405.72,205.46 407.3,205.72 408.89,205.95 410.47,206.15 412.06,206.32 413.64,206.48 415.22,206.62 416.81,206.74 418.39,206.84 419.98,206.93 421.56,207.02 423.14,207.09 424.73,207.15 426.31,207.2 427.9,207.25 429.48,207.29 431.06,207.33 432.65,207.36 434.23,207.39 435.82,207.42 437.4,207.44 438.98,207.46 440.57,207.48 442.15,207.49 443.74,207.5 445.32,207.51 446.9,207.52 448.49,207.53 450.07,207.54 451.66,207.55 453.24,207.55 454.82,207.56 456.41,207.56 457.99,207.57 459.58,207.57 461.16,207.57 462.74,207.58 464.33,207.58 465.91,207.58 467.5,207.58 469.08,207.58" fill="none" stroke="#ff33ff" stroke-width="1.2"/>
<polyline points="279,45.48 280.58,45.51 282.17,45.54 283.75,45.58 285.34,45.62 286.92,45.67 288.5,45.73 290.09,45.79 291.67,45.86 293.26,45.94 294.84,46.04 296.42,46.14 298.01,46.27 299.59,46.41 301.18,46.56 302.76,46.75 304.34,46.95 305.93,47.19 307.51,47.46 309.1,47.76 310.68,48.11 312.26,48.5 313.85,48.95 315.43,49.46 317.02,50.04 318.6,50.69 320.18,51.43 321.77,52.27 323.35,53.21 324.94,54.28 326.52,55.48 328.1,56.82 329.69,58.33 331.27,60.01 332.86,61.88 334.44,63.96 336.02,66.26 337.61,68.79 339.19,71.57 340.78,74.6 342.36,77.89 343.94,81.44 345.53,85.25 347.11,89.32 348.7,93.61 350.28,98.13 351.86,102.83 353.45,107.69 355.03,112.67 356.62,117.74 358.2,122.83 359.78,127.92 361.37,132.96 362.95,137.9 364.54,142.7 366.12,147.33 367.7,151.76 369.29,155.96 370.87,159.93 372.46,163.63 374.04,167.08 375.62,170.27 377.21,173.2 378.79,175.88 380.38,178.31 381.96,180.52 383.54,182.52 385.13,184.31 386.71,185.92 388.3,187.36 389.88,188.64 391.46,189.79 393.05,190.8 394.63,191.7 396.22,192.5 397.8,193.21 399.38,193.83 400.97,194.38 402.55,194.86 404.14,195.29 405.72,195.66 407.3,195.99 408.89,196.28 410.47,196.54 412.06,196.76 413.64,196.96 415.22,197.13 416.81,197.28 418.39,197.41 419.98,197.53 421.56,197.63 423.14,197.72 424.73,197.79 426.31,197.86 427.9,197.92 429.48,197.98 431.06,198.02 432.65,198.06 434.23,198.1 435.82,198.13 437.4,198.15 438.98,198.18 440.57,198.2 442.15,198.22 443.74,198.23 445.32,198.25 446.9,198.26 448.49,198.27 450.07,198.28 451.66,198.29 453.24,198.29 454.82,198.3 456.41,198.31 457.99,198.31 459.58,198.31 461.16,198.32 462.74,198.32 464.33,198.32 465.91,198.33 467.5,198.33 469.08,198.33" fill="none" stroke="#3ddc3d" stroke-width="1.2"/>
<polyline points="279,45.34 280.58,45.35 282.17,45.36 283.75,45.37 285.34,45.39 286.92,45.4 288.5,45.42 290.09,45.44 291.67,45.46 293.26,45.49 294.84,45.52 296.42,45.56 298.01,45.6 299.59,45.65 301.18,45.71 302.76,45.77 304.34,45.84 305.93,45.93 307.51,46.03 309.1,46.14 310.68,46.27 312.26,46.41 313.85,46.58 315.43,46.78 317.02,47 318.6,47.26 320.18,47.56 321.77,47.9 323.35,48.28 324.94,48.73 326.52,49.24 328.1,49.82 329.69,50.48 331.27,51.24 332.86,52.1 334.44,53.08 336.02,54.2 337.61,55.46 339.19,56.89 340.78,58.51 342.36,60.32 343.94,62.36 345.53,64.63 347.11,67.16 348.7,69.97 350.28,73.06 351.86,76.46 353.45,80.16 355.03,84.17 356.62,88.49 358.2,93.1 359.78,97.98 361.37,103.11 362.95,108.45 364.54,113.96 366.12,119.6 367.7,125.3 369.29,131.01 370.87,136.67 372.46,142.24 374.04,147.65 375.62,152.87 377.21,157.86 378.79,162.58 380.38,167.02 381.96,171.15 383.54,174.98 385.13,178.49 386.71,181.71 388.3,184.63 389.88,187.27 391.46,189.64 393.05,191.77 394.63,193.67 396.22,195.36 397.8,196.86 399.38,198.19 400.97,199.36 402.55,200.4 404.14,201.31 405.72,202.1 407.3,202.8 408.89,203.42 410.47,203.95 412.06,204.42 413.64,204.83 415.22,205.19 416.81,205.5 418.39,205.77 419.98,206.01 421.56,206.22 423.14,206.4 424.73,206.55 426.31,206.69 427.9,206.81 429.48,206.91 431.06,207 432.65,207.08 434.23,207.15 435.82,207.2 437.4,207.26 438.98,207.3 440.57,207.34 442.15,207.37 443.74,207.4 445.32,207.43 446.9,207.45 448.49,207.47 450.07,207.48 451.66,207.5 453.24,207.51 454.82,207.52 456.41,207.53 457.99,207.54 459.58,207.55 461.16,207.55 462.74,207.56 464.33,207.56 465.91,207.57 467.5,207.57 469.08,207.57" fill="none" stroke="#e4aa3a" stroke-width="1.2"/>
<rect x="275.7" y="40.3" width="6.6" height="6.6" fill="none" stroke="#3a3a3a" stroke-width="1.2"/>
<line x1="294.84" y1="36.36" x2="294.84" y2="46.8" stroke="#3a3a3a" stroke-width="1.1" />
<line x1="291.44" y1="36.36" x2="298.24" y2="36.36" stroke="#3a3a3a" stroke-width="1.1" />
<line x1="291.44" y1="46.8" x2="298.24" y2="46.8" stroke="#3a3a3a" stroke-width="1.1" />
<rect x="291.54" y="38.28" width="6.6" height="6.6" fill="none" stroke="#3a3a3a" stroke-width="1.2"/>
<line x1="310.68" y1="32.49" x2="310.68" y2="42.93" stroke="#3a3a3a" stroke-width="1.1" />
<line x1="307.28" y1="32.49" x2="314.08" y2="32.49" stroke="#3a3a3a" stroke-width="1.1" />
<line x1="307.28" y1="42.93" x2="314.08" y2="42.93" stroke="#3a3a3a" stroke-width="1.1" />
<rect x="307.38" y="34.41" width="6.6" height="6.6" fill="none" stroke="#3a3a3a" stroke-width="1.2"/>
<line x1="326.52" y1="36.7" x2="326.52" y2="47.14" stroke="#3a3a3a" stroke-width="1.1" />
<line x1="323.12" y1="36.7" x2="329.92" y2="36.7" stroke="#3a3a3a" stroke-width="1.1" />
<line x1="323.12" y1="47.14" x2="329.92" y2="47.14" stroke="#3a3a3a" stroke-width="1.1" />
<rect x="323.22" y="38.62" width="6.6" height="6.6" fill="none" stroke="#3a3a3a" stroke-width="1.2"/>
<line x1="342.36" y1="61.93" x2="342.36" y2="72.37" stroke="#3a3a3a" stroke-width="1.1" />
<line x1="338.96" y1="61.93" x2="345.76" y2="61.93" stroke="#3a3a3a" stroke-width="1.1" />
<line x1="338.96" y1="72.37" x2="345.76" y2="72.37" stroke="#3a3a3a" stroke-width="1.1" />
<rect x="339.06" y="63.85" width="6.6" height="6.6" fill="none" stroke="#3a3a3a" stroke-width="1.2"/>
<line x1="358.2" y1="104.32" x2="358.2" y2="114.75" stroke="#3a3a3a" stroke-width="1.1" />
<line x1="354.8" y1="104.32" x2="361.6" y2="104.32" stroke="#3a3a3a" stroke-width="1.1" />
<line x1="354.8" y1="114.75" x2="361.6" y2="114.75" stroke="#3a3a3a" stroke-width="1.1" />
<rect x="354.9" y="106.23" width="6.6" height="6.6" fill="none" stroke="#3a3a3a" stroke-width="1.2"/>
<line x1="374.04" y1="156.12" x2="374.04" y2="166.56" stroke="#3a3a3a" stroke-width="1.1" />
<line x1="370.64" y1="156.12" x2="377.44" y2="156.12" stroke="#3a3a3a" stroke-width="1.1" />
<line x1="370.64" y1="166.56" x2="377.44" y2="166.56" stroke="#3a3a3a" stroke-width="1.1" />
<rect x="370.74" y="158.04" width="6.6" height="6.6" fill="none" stroke="#3a3a3a" stroke-width="1.2"/>
<line x1="389.88" y1="191.44" x2="389.88" y2="201.88" stroke="#3a3a3a" stroke-width="1.1" />
<line x1="386.48" y1="191.44" x2="393.28" y2="191.44" stroke="#3a3a3a" stroke-width="1.1" />
<line x1="386.48" y1="201.88" x2="393.28" y2="201.88" stroke="#3a3a3a" stroke-width="1.1" />
<rect x="386.58" y="193.36" width="6.6" height="6.6" fill="none" stroke="#3a3a3a" stroke-width="1.2"/>
<line x1="405.72" y1="198.17" x2="405.72" y2="208.61" stroke="#3a3a3a" stroke-width="1.1" />
<line x1="402.32" y1="198.17" x2="409.12" y2="198.17" stroke="#3a3a3a" stroke-width="1.1" />
<line x1="402.32" y1="208.61" x2="409.12" y2="208.61" stroke="#3a3a3a" stroke-width="1.1" />
<rect x="402.42" y="200.09" width="6.6" height="6.6" fill="none" stroke="#3a3a3a" stroke-width="1.2"/>
<line x1="421.56" y1="199.85" x2="421.56" y2="210.29" stroke="#3a3a3a" stroke-width="1.1" />
<line x1="418.16" y1="199.85" x2="424.96" y2="199.85" stroke="#3a3a3a" stroke-width="1.1" />
<line x1="418.16" y1="210.29" x2="424.96" y2="210.29" stroke="#3a3a3a" stroke-width="1.1" />
<rect x="418.26" y="201.77" width="6.6" height="6.6" fill="none" stroke="#3a3a3a" stroke-width="1.2"/>
<line x1="437.4" y1="199.85" x2="437.4" y2="210.29" stroke="#3a3a3a" stroke-width="1.1" />
<line x1="434" y1="199.85" x2="440.8" y2="199.85" stroke="#3a3a3a" stroke-width="1.1" />
<line x1="434" y1="210.29" x2="440.8" y2="210.29" stroke="#3a3a3a" stroke-width="1.1" />
<rect x="434.1" y="201.77" width="6.6" height="6.6" fill="none" stroke="#3a3a3a" stroke-width="1.2"/>
<line x1="453.24" y1="199.85" x2="453.24" y2="210.29" stroke="#3a3a3a" stroke-width="1.1" />
<line x1="449.84" y1="199.85" x2="456.64" y2="199.85" stroke="#3a3a3a" stroke-width="1.1" />
<line x1="449.84" y1="210.29" x2="456.64" y2="210.29" stroke="#3a3a3a" stroke-width="1.1" />
<rect x="449.94" y="201.77" width="6.6" height="6.6" fill="none" stroke="#3a3a3a" stroke-width="1.2"/>
<line x1="469.08" y1="199.85" x2="469.08" y2="210.29" stroke="#3a3a3a" stroke-width="1.1" />
<line x1="465.68" y1="199.85" x2="472.48" y2="199.85" stroke="#3a3a3a" stroke-width="1.1" />
<line x1="465.68" y1="210.29" x2="472.48" y2="210.29" stroke="#3a3a3a" stroke-width="1.1" />
<rect x="465.78" y="201.77" width="6.6" height="6.6" fill="none" stroke="#3a3a3a" stroke-width="1.2"/>
<ellipse cx="279" cy="43.6" rx="3.5" ry="3.5" fill="none" stroke="#3d8be6" stroke-width="1.2"/>
<line x1="294.84" y1="35.35" x2="294.84" y2="45.12" stroke="#3d8be6" stroke-width="1.1" />
<line x1="291.44" y1="35.35" x2="298.24" y2="35.35" stroke="#3d8be6" stroke-width="1.1" />
<line x1="291.44" y1="45.12" x2="298.24" y2="45.12" stroke="#3d8be6" stroke-width="1.1" />
<ellipse cx="294.84" cy="40.24" rx="3.5" ry="3.5" fill="none" stroke="#3d8be6" stroke-width="1.2"/>
<line x1="310.68" y1="35.35" x2="310.68" y2="45.12" stroke="#3d8be6" stroke-width="1.1" />
<line x1="307.28" y1="35.35" x2="314.08" y2="35.35" stroke="#3d8be6" stroke-width="1.1" />
<line x1="307.28" y1="45.12" x2="314.08" y2="45.12" stroke="#3d8be6" stroke-width="1.1" />
<ellipse cx="310.68" cy="40.24" rx="3.5" ry="3.5" fill="none" stroke="#3d8be6" stroke-width="1.2"/>
<line x1="326.52" y1="40.4" x2="326.52" y2="50.16" stroke="#3d8be6" stroke-width="1.1" />
<line x1="323.12" y1="40.4" x2="329.92" y2="40.4" stroke="#3d8be6" stroke-width="1.1" />
<line x1="323.12" y1="50.16" x2="329.92" y2="50.16" stroke="#3d8be6" stroke-width="1.1" />
<ellipse cx="326.52" cy="45.28" rx="3.5" ry="3.5" fill="none" stroke="#3d8be6" stroke-width="1.2"/>
<line x1="342.36" y1="62.27" x2="342.36" y2="72.03" stroke="#3d8be6" stroke-width="1.1" />
<line x1="338.96" y1="62.27" x2="345.76" y2="62.27" stroke="#3d8be6" stroke-width="1.1" />
<line x1="338.96" y1="72.03" x2="345.76" y2="72.03" stroke="#3d8be6" stroke-width="1.1" />
<ellipse cx="342.36" cy="67.15" rx="3.5" ry="3.5" fill="none" stroke="#3d8be6" stroke-width="1.2"/>
<line x1="358.2" y1="102.63" x2="358.2" y2="112.4" stroke="#3d8be6" stroke-width="1.1" />
<line x1="354.8" y1="102.63" x2="361.6" y2="102.63" stroke="#3d8be6" stroke-width="1.1" />
<line x1="354.8" y1="112.4" x2="361.6" y2="112.4" stroke="#3d8be6" stroke-width="1.1" />
<ellipse cx="358.2" cy="107.52" rx="3.5" ry="3.5" fill="none" stroke="#3d8be6" stroke-width="1.2"/>
<line x1="374.04" y1="153.94" x2="374.04" y2="163.7" stroke="#3d8be6" stroke-width="1.1" />
<line x1="370.64" y1="153.94" x2="377.44" y2="153.94" stroke="#3d8be6" stroke-width="1.1" />
<line x1="370.64" y1="163.7" x2="377.44" y2="163.7" stroke="#3d8be6" stroke-width="1.1" />
<ellipse cx="374.04" cy="158.82" rx="3.5" ry="3.5" fill="none" stroke="#3d8be6" stroke-width="1.2"/>
<line x1="389.88" y1="191.78" x2="389.88" y2="201.54" stroke="#3d8be6" stroke-width="1.1" />
<line x1="386.48" y1="191.78" x2="393.28" y2="191.78" stroke="#3d8be6" stroke-width="1.1" />
<line x1="386.48" y1="201.54" x2="393.28" y2="201.54" stroke="#3d8be6" stroke-width="1.1" />
<ellipse cx="389.88" cy="196.66" rx="3.5" ry="3.5" fill="none" stroke="#3d8be6" stroke-width="1.2"/>
<line x1="405.72" y1="198.51" x2="405.72" y2="208.27" stroke="#3d8be6" stroke-width="1.1" />
<line x1="402.32" y1="198.51" x2="409.12" y2="198.51" stroke="#3d8be6" stroke-width="1.1" />
<line x1="402.32" y1="208.27" x2="409.12" y2="208.27" stroke="#3d8be6" stroke-width="1.1" />
<ellipse cx="405.72" cy="203.39" rx="3.5" ry="3.5" fill="none" stroke="#3d8be6" stroke-width="1.2"/>
<line x1="421.56" y1="198.51" x2="421.56" y2="208.27" stroke="#3d8be6" stroke-width="1.1" />
<line x1="418.16" y1="198.51" x2="424.96" y2="198.51" stroke="#3d8be6" stroke-width="1.1" />
<line x1="418.16" y1="208.27" x2="424.96" y2="208.27" stroke="#3d8be6" stroke-width="1.1" />
<ellipse cx="421.56" cy="203.39" rx="3.5" ry="3.5" fill="none" stroke="#3d8be6" stroke-width="1.2"/>
<line x1="437.4" y1="198.51" x2="437.4" y2="208.27" stroke="#3d8be6" stroke-width="1.1" />
<line x1="434" y1="198.51" x2="440.8" y2="198.51" stroke="#3d8be6" stroke-width="1.1" />
<line x1="434" y1="208.27" x2="440.8" y2="208.27" stroke="#3d8be6" stroke-width="1.1" />
<ellipse cx="437.4" cy="203.39" rx="3.5" ry="3.5" fill="none" stroke="#3d8be6" stroke-width="1.2"/>
<line x1="453.24" y1="198.51" x2="453.24" y2="208.27" stroke="#3d8be6" stroke-width="1.1" />
<line x1="449.84" y1="198.51" x2="456.64" y2="198.51" stroke="#3d8be6" stroke-width="1.1" />
<line x1="449.84" y1="208.27" x2="456.64" y2="208.27" stroke="#3d8be6" stroke-width="1.1" />
<ellipse cx="453.24" cy="203.39" rx="3.5" ry="3.5" fill="none" stroke="#3d8be6" stroke-width="1.2"/>
<line x1="469.08" y1="198.51" x2="469.08" y2="208.27" stroke="#3d8be6" stroke-width="1.1" />
<line x1="465.68" y1="198.51" x2="472.48" y2="198.51" stroke="#3d8be6" stroke-width="1.1" />
<line x1="465.68" y1="208.27" x2="472.48" y2="208.27" stroke="#3d8be6" stroke-width="1.1" />
<ellipse cx="469.08" cy="203.39" rx="3.5" ry="3.5" fill="none" stroke="#3d8be6" stroke-width="1.2"/>
<path d="M279 37.6 L283.1 47.1 L274.9 47.1 Z" fill="none" stroke="#ff33ff" stroke-width="1.2" stroke-linejoin="round"/>
<line x1="294.84" y1="39.73" x2="294.84" y2="50.84" stroke="#ff33ff" stroke-width="1.1" />
<line x1="291.44" y1="39.73" x2="298.24" y2="39.73" stroke="#ff33ff" stroke-width="1.1" />
<line x1="291.44" y1="50.84" x2="298.24" y2="50.84" stroke="#ff33ff" stroke-width="1.1" />
<path d="M294.84 39.28 L298.94 48.78 L290.74 48.78 Z" fill="none" stroke="#ff33ff" stroke-width="1.2" stroke-linejoin="round"/>
<line x1="310.68" y1="43.93" x2="310.68" y2="55.04" stroke="#ff33ff" stroke-width="1.1" />
<line x1="307.28" y1="43.93" x2="314.08" y2="43.93" stroke="#ff33ff" stroke-width="1.1" />
<line x1="307.28" y1="55.04" x2="314.08" y2="55.04" stroke="#ff33ff" stroke-width="1.1" />
<path d="M310.68 43.49 L314.78 52.99 L306.58 52.99 Z" fill="none" stroke="#ff33ff" stroke-width="1.2" stroke-linejoin="round"/>
<line x1="326.52" y1="58.23" x2="326.52" y2="69.34" stroke="#ff33ff" stroke-width="1.1" />
<line x1="323.12" y1="58.23" x2="329.92" y2="58.23" stroke="#ff33ff" stroke-width="1.1" />
<line x1="323.12" y1="69.34" x2="329.92" y2="69.34" stroke="#ff33ff" stroke-width="1.1" />
<path d="M326.52 57.78 L330.62 67.28 L322.42 67.28 Z" fill="none" stroke="#ff33ff" stroke-width="1.2" stroke-linejoin="round"/>
<line x1="342.36" y1="91.03" x2="342.36" y2="102.14" stroke="#ff33ff" stroke-width="1.1" />
<line x1="338.96" y1="91.03" x2="345.76" y2="91.03" stroke="#ff33ff" stroke-width="1.1" />
<line x1="338.96" y1="102.14" x2="345.76" y2="102.14" stroke="#ff33ff" stroke-width="1.1" />
<path d="M342.36 90.58 L346.46 100.08 L338.26 100.08 Z" fill="none" stroke="#ff33ff" stroke-width="1.2" stroke-linejoin="round"/>
<line x1="358.2" y1="134.42" x2="358.2" y2="145.53" stroke="#ff33ff" stroke-width="1.1" />
<line x1="354.8" y1="134.42" x2="361.6" y2="134.42" stroke="#ff33ff" stroke-width="1.1" />
<line x1="354.8" y1="145.53" x2="361.6" y2="145.53" stroke="#ff33ff" stroke-width="1.1" />
<path d="M358.2 133.98 L362.3 143.48 L354.1 143.48 Z" fill="none" stroke="#ff33ff" stroke-width="1.2" stroke-linejoin="round"/>
<line x1="374.04" y1="175.46" x2="374.04" y2="186.57" stroke="#ff33ff" stroke-width="1.1" />
<line x1="370.64" y1="175.46" x2="377.44" y2="175.46" stroke="#ff33ff" stroke-width="1.1" />
<line x1="370.64" y1="186.57" x2="377.44" y2="186.57" stroke="#ff33ff" stroke-width="1.1" />
<path d="M374.04 175.02 L378.14 184.52 L369.94 184.52 Z" fill="none" stroke="#ff33ff" stroke-width="1.2" stroke-linejoin="round"/>
<line x1="389.88" y1="195.48" x2="389.88" y2="206.59" stroke="#ff33ff" stroke-width="1.1" />
<line x1="386.48" y1="195.48" x2="393.28" y2="195.48" stroke="#ff33ff" stroke-width="1.1" />
<line x1="386.48" y1="206.59" x2="393.28" y2="206.59" stroke="#ff33ff" stroke-width="1.1" />
<path d="M389.88 195.04 L393.98 204.54 L385.78 204.54 Z" fill="none" stroke="#ff33ff" stroke-width="1.2" stroke-linejoin="round"/>
<line x1="405.72" y1="201.2" x2="405.72" y2="212.31" stroke="#ff33ff" stroke-width="1.1" />
<line x1="402.32" y1="201.2" x2="409.12" y2="201.2" stroke="#ff33ff" stroke-width="1.1" />
<line x1="402.32" y1="212.31" x2="409.12" y2="212.31" stroke="#ff33ff" stroke-width="1.1" />
<path d="M405.72 200.75 L409.82 210.25 L401.62 210.25 Z" fill="none" stroke="#ff33ff" stroke-width="1.2" stroke-linejoin="round"/>
<line x1="421.56" y1="202.04" x2="421.56" y2="213.15" stroke="#ff33ff" stroke-width="1.1" />
<line x1="418.16" y1="202.04" x2="424.96" y2="202.04" stroke="#ff33ff" stroke-width="1.1" />
<line x1="418.16" y1="213.15" x2="424.96" y2="213.15" stroke="#ff33ff" stroke-width="1.1" />
<path d="M421.56 201.59 L425.66 211.09 L417.46 211.09 Z" fill="none" stroke="#ff33ff" stroke-width="1.2" stroke-linejoin="round"/>
<line x1="437.4" y1="202.04" x2="437.4" y2="213.15" stroke="#ff33ff" stroke-width="1.1" />
<line x1="434" y1="202.04" x2="440.8" y2="202.04" stroke="#ff33ff" stroke-width="1.1" />
<line x1="434" y1="213.15" x2="440.8" y2="213.15" stroke="#ff33ff" stroke-width="1.1" />
<path d="M437.4 201.59 L441.5 211.09 L433.3 211.09 Z" fill="none" stroke="#ff33ff" stroke-width="1.2" stroke-linejoin="round"/>
<line x1="453.24" y1="202.04" x2="453.24" y2="213.15" stroke="#ff33ff" stroke-width="1.1" />
<line x1="449.84" y1="202.04" x2="456.64" y2="202.04" stroke="#ff33ff" stroke-width="1.1" />
<line x1="449.84" y1="213.15" x2="456.64" y2="213.15" stroke="#ff33ff" stroke-width="1.1" />
<path d="M453.24 201.59 L457.34 211.09 L449.14 211.09 Z" fill="none" stroke="#ff33ff" stroke-width="1.2" stroke-linejoin="round"/>
<line x1="469.08" y1="202.04" x2="469.08" y2="213.15" stroke="#ff33ff" stroke-width="1.1" />
<line x1="465.68" y1="202.04" x2="472.48" y2="202.04" stroke="#ff33ff" stroke-width="1.1" />
<line x1="465.68" y1="213.15" x2="472.48" y2="213.15" stroke="#ff33ff" stroke-width="1.1" />
<path d="M469.08 201.59 L473.18 211.09 L464.98 211.09 Z" fill="none" stroke="#ff33ff" stroke-width="1.2" stroke-linejoin="round"/>
<path d="M279 49.6 L283.1 40.1 L274.9 40.1 Z" fill="none" stroke="#3ddc3d" stroke-width="1.2" stroke-linejoin="round"/>
<line x1="294.84" y1="35.02" x2="294.84" y2="45.45" stroke="#3ddc3d" stroke-width="1.1" />
<line x1="291.44" y1="35.02" x2="298.24" y2="35.02" stroke="#3ddc3d" stroke-width="1.1" />
<line x1="291.44" y1="45.45" x2="298.24" y2="45.45" stroke="#3ddc3d" stroke-width="1.1" />
<path d="M294.84 46.24 L298.94 36.74 L290.74 36.74 Z" fill="none" stroke="#3ddc3d" stroke-width="1.2" stroke-linejoin="round"/>
<line x1="310.68" y1="35.02" x2="310.68" y2="45.45" stroke="#3ddc3d" stroke-width="1.1" />
<line x1="307.28" y1="35.02" x2="314.08" y2="35.02" stroke="#3ddc3d" stroke-width="1.1" />
<line x1="307.28" y1="45.45" x2="314.08" y2="45.45" stroke="#3ddc3d" stroke-width="1.1" />
<path d="M310.68 46.24 L314.78 36.74 L306.58 36.74 Z" fill="none" stroke="#3ddc3d" stroke-width="1.2" stroke-linejoin="round"/>
<line x1="326.52" y1="41.75" x2="326.52" y2="52.18" stroke="#3ddc3d" stroke-width="1.1" />
<line x1="323.12" y1="41.75" x2="329.92" y2="41.75" stroke="#3ddc3d" stroke-width="1.1" />
<line x1="323.12" y1="52.18" x2="329.92" y2="52.18" stroke="#3ddc3d" stroke-width="1.1" />
<path d="M326.52 52.96 L330.62 43.46 L322.42 43.46 Z" fill="none" stroke="#3ddc3d" stroke-width="1.2" stroke-linejoin="round"/>
<line x1="342.36" y1="71.18" x2="342.36" y2="81.62" stroke="#3ddc3d" stroke-width="1.1" />
<line x1="338.96" y1="71.18" x2="345.76" y2="71.18" stroke="#3ddc3d" stroke-width="1.1" />
<line x1="338.96" y1="81.62" x2="345.76" y2="81.62" stroke="#3ddc3d" stroke-width="1.1" />
<path d="M342.36 82.4 L346.46 72.9 L338.26 72.9 Z" fill="none" stroke="#3ddc3d" stroke-width="1.2" stroke-linejoin="round"/>
<line x1="358.2" y1="116.76" x2="358.2" y2="127.2" stroke="#3ddc3d" stroke-width="1.1" />
<line x1="354.8" y1="116.76" x2="361.6" y2="116.76" stroke="#3ddc3d" stroke-width="1.1" />
<line x1="354.8" y1="127.2" x2="361.6" y2="127.2" stroke="#3ddc3d" stroke-width="1.1" />
<path d="M358.2 127.98 L362.3 118.48 L354.1 118.48 Z" fill="none" stroke="#3ddc3d" stroke-width="1.2" stroke-linejoin="round"/>
<line x1="374.04" y1="163.52" x2="374.04" y2="173.96" stroke="#3ddc3d" stroke-width="1.1" />
<line x1="370.64" y1="163.52" x2="377.44" y2="163.52" stroke="#3ddc3d" stroke-width="1.1" />
<line x1="370.64" y1="173.96" x2="377.44" y2="173.96" stroke="#3ddc3d" stroke-width="1.1" />
<path d="M374.04 174.74 L378.14 165.24 L369.94 165.24 Z" fill="none" stroke="#3ddc3d" stroke-width="1.2" stroke-linejoin="round"/>
<line x1="389.88" y1="186.4" x2="389.88" y2="196.83" stroke="#3ddc3d" stroke-width="1.1" />
<line x1="386.48" y1="186.4" x2="393.28" y2="186.4" stroke="#3ddc3d" stroke-width="1.1" />
<line x1="386.48" y1="196.83" x2="393.28" y2="196.83" stroke="#3ddc3d" stroke-width="1.1" />
<path d="M389.88 197.62 L393.98 188.12 L385.78 188.12 Z" fill="none" stroke="#3ddc3d" stroke-width="1.2" stroke-linejoin="round"/>
<line x1="405.72" y1="189.26" x2="405.72" y2="199.69" stroke="#3ddc3d" stroke-width="1.1" />
<line x1="402.32" y1="189.26" x2="409.12" y2="189.26" stroke="#3ddc3d" stroke-width="1.1" />
<line x1="402.32" y1="199.69" x2="409.12" y2="199.69" stroke="#3ddc3d" stroke-width="1.1" />
<path d="M405.72 200.48 L409.82 190.98 L401.62 190.98 Z" fill="none" stroke="#3ddc3d" stroke-width="1.2" stroke-linejoin="round"/>
<line x1="421.56" y1="191.44" x2="421.56" y2="201.88" stroke="#3ddc3d" stroke-width="1.1" />
<line x1="418.16" y1="191.44" x2="424.96" y2="191.44" stroke="#3ddc3d" stroke-width="1.1" />
<line x1="418.16" y1="201.88" x2="424.96" y2="201.88" stroke="#3ddc3d" stroke-width="1.1" />
<path d="M421.56 202.66 L425.66 193.16 L417.46 193.16 Z" fill="none" stroke="#3ddc3d" stroke-width="1.2" stroke-linejoin="round"/>
<line x1="437.4" y1="192.28" x2="437.4" y2="202.72" stroke="#3ddc3d" stroke-width="1.1" />
<line x1="434" y1="192.28" x2="440.8" y2="192.28" stroke="#3ddc3d" stroke-width="1.1" />
<line x1="434" y1="202.72" x2="440.8" y2="202.72" stroke="#3ddc3d" stroke-width="1.1" />
<path d="M437.4 203.5 L441.5 194 L433.3 194 Z" fill="none" stroke="#3ddc3d" stroke-width="1.2" stroke-linejoin="round"/>
<line x1="453.24" y1="192.28" x2="453.24" y2="202.72" stroke="#3ddc3d" stroke-width="1.1" />
<line x1="449.84" y1="192.28" x2="456.64" y2="192.28" stroke="#3ddc3d" stroke-width="1.1" />
<line x1="449.84" y1="202.72" x2="456.64" y2="202.72" stroke="#3ddc3d" stroke-width="1.1" />
<path d="M453.24 203.5 L457.34 194 L449.14 194 Z" fill="none" stroke="#3ddc3d" stroke-width="1.2" stroke-linejoin="round"/>
<line x1="469.08" y1="192.28" x2="469.08" y2="202.72" stroke="#3ddc3d" stroke-width="1.1" />
<line x1="465.68" y1="192.28" x2="472.48" y2="192.28" stroke="#3ddc3d" stroke-width="1.1" />
<line x1="465.68" y1="202.72" x2="472.48" y2="202.72" stroke="#3ddc3d" stroke-width="1.1" />
<path d="M469.08 203.5 L473.18 194 L464.98 194 Z" fill="none" stroke="#3ddc3d" stroke-width="1.2" stroke-linejoin="round"/>
<path d="M279 38.7 L283.1 43.6 L279 48.5 L274.9 43.6 Z" fill="none" stroke="#e4aa3a" stroke-width="1.2"/>
<line x1="294.84" y1="41.07" x2="294.84" y2="50.84" stroke="#e4aa3a" stroke-width="1.1" />
<line x1="291.44" y1="41.07" x2="298.24" y2="41.07" stroke="#e4aa3a" stroke-width="1.1" />
<line x1="291.44" y1="50.84" x2="298.24" y2="50.84" stroke="#e4aa3a" stroke-width="1.1" />
<path d="M294.84 41.05 L298.94 45.95 L294.84 50.85 L290.74 45.95 Z" fill="none" stroke="#e4aa3a" stroke-width="1.2"/>
<line x1="310.68" y1="40.4" x2="310.68" y2="50.16" stroke="#e4aa3a" stroke-width="1.1" />
<line x1="307.28" y1="40.4" x2="314.08" y2="40.4" stroke="#e4aa3a" stroke-width="1.1" />
<line x1="307.28" y1="50.16" x2="314.08" y2="50.16" stroke="#e4aa3a" stroke-width="1.1" />
<path d="M310.68 40.38 L314.78 45.28 L310.68 50.18 L306.58 45.28 Z" fill="none" stroke="#e4aa3a" stroke-width="1.2"/>
<line x1="326.52" y1="43.76" x2="326.52" y2="53.53" stroke="#e4aa3a" stroke-width="1.1" />
<line x1="323.12" y1="43.76" x2="329.92" y2="43.76" stroke="#e4aa3a" stroke-width="1.1" />
<line x1="323.12" y1="53.53" x2="329.92" y2="53.53" stroke="#e4aa3a" stroke-width="1.1" />
<path d="M326.52 43.75 L330.62 48.65 L326.52 53.55 L322.42 48.65 Z" fill="none" stroke="#e4aa3a" stroke-width="1.2"/>
<line x1="342.36" y1="54.87" x2="342.36" y2="64.63" stroke="#e4aa3a" stroke-width="1.1" />
<line x1="338.96" y1="54.87" x2="345.76" y2="54.87" stroke="#e4aa3a" stroke-width="1.1" />
<line x1="338.96" y1="64.63" x2="345.76" y2="64.63" stroke="#e4aa3a" stroke-width="1.1" />
<path d="M342.36 54.85 L346.46 59.75 L342.36 64.65 L338.26 59.75 Z" fill="none" stroke="#e4aa3a" stroke-width="1.2"/>
<line x1="358.2" y1="86.66" x2="358.2" y2="96.42" stroke="#e4aa3a" stroke-width="1.1" />
<line x1="354.8" y1="86.66" x2="361.6" y2="86.66" stroke="#e4aa3a" stroke-width="1.1" />
<line x1="354.8" y1="96.42" x2="361.6" y2="96.42" stroke="#e4aa3a" stroke-width="1.1" />
<path d="M358.2 86.64 L362.3 91.54 L358.2 96.44 L354.1 91.54 Z" fill="none" stroke="#e4aa3a" stroke-width="1.2"/>
<line x1="374.04" y1="136.27" x2="374.04" y2="146.04" stroke="#e4aa3a" stroke-width="1.1" />
<line x1="370.64" y1="136.27" x2="377.44" y2="136.27" stroke="#e4aa3a" stroke-width="1.1" />
<line x1="370.64" y1="146.04" x2="377.44" y2="146.04" stroke="#e4aa3a" stroke-width="1.1" />
<path d="M374.04 136.26 L378.14 141.16 L374.04 146.06 L369.94 141.16 Z" fill="none" stroke="#e4aa3a" stroke-width="1.2"/>
<line x1="389.88" y1="182.19" x2="389.88" y2="191.96" stroke="#e4aa3a" stroke-width="1.1" />
<line x1="386.48" y1="182.19" x2="393.28" y2="182.19" stroke="#e4aa3a" stroke-width="1.1" />
<line x1="386.48" y1="191.96" x2="393.28" y2="191.96" stroke="#e4aa3a" stroke-width="1.1" />
<path d="M389.88 182.17 L393.98 187.07 L389.88 191.97 L385.78 187.07 Z" fill="none" stroke="#e4aa3a" stroke-width="1.2"/>
<line x1="405.72" y1="198.17" x2="405.72" y2="207.94" stroke="#e4aa3a" stroke-width="1.1" />
<line x1="402.32" y1="198.17" x2="409.12" y2="198.17" stroke="#e4aa3a" stroke-width="1.1" />
<line x1="402.32" y1="207.94" x2="409.12" y2="207.94" stroke="#e4aa3a" stroke-width="1.1" />
<path d="M405.72 198.15 L409.82 203.05 L405.72 207.95 L401.62 203.05 Z" fill="none" stroke="#e4aa3a" stroke-width="1.2"/>
<line x1="421.56" y1="201.87" x2="421.56" y2="211.64" stroke="#e4aa3a" stroke-width="1.1" />
<line x1="418.16" y1="201.87" x2="424.96" y2="201.87" stroke="#e4aa3a" stroke-width="1.1" />
<line x1="418.16" y1="211.64" x2="424.96" y2="211.64" stroke="#e4aa3a" stroke-width="1.1" />
<path d="M421.56 201.85 L425.66 206.75 L421.56 211.65 L417.46 206.75 Z" fill="none" stroke="#e4aa3a" stroke-width="1.2"/>
<line x1="437.4" y1="202.71" x2="437.4" y2="212.48" stroke="#e4aa3a" stroke-width="1.1" />
<line x1="434" y1="202.71" x2="440.8" y2="202.71" stroke="#e4aa3a" stroke-width="1.1" />
<line x1="434" y1="212.48" x2="440.8" y2="212.48" stroke="#e4aa3a" stroke-width="1.1" />
<path d="M437.4 202.69 L441.5 207.59 L437.4 212.5 L433.3 207.59 Z" fill="none" stroke="#e4aa3a" stroke-width="1.2"/>
<line x1="453.24" y1="202.71" x2="453.24" y2="212.48" stroke="#e4aa3a" stroke-width="1.1" />
<line x1="449.84" y1="202.71" x2="456.64" y2="202.71" stroke="#e4aa3a" stroke-width="1.1" />
<line x1="449.84" y1="212.48" x2="456.64" y2="212.48" stroke="#e4aa3a" stroke-width="1.1" />
<path d="M453.24 202.69 L457.34 207.59 L453.24 212.5 L449.14 207.59 Z" fill="none" stroke="#e4aa3a" stroke-width="1.2"/>
<line x1="469.08" y1="202.71" x2="469.08" y2="212.48" stroke="#e4aa3a" stroke-width="1.1" />
<line x1="465.68" y1="202.71" x2="472.48" y2="202.71" stroke="#e4aa3a" stroke-width="1.1" />
<line x1="465.68" y1="212.48" x2="472.48" y2="212.48" stroke="#e4aa3a" stroke-width="1.1" />
<path d="M469.08 202.69 L473.18 207.59 L469.08 212.5 L464.98 207.59 Z" fill="none" stroke="#e4aa3a" stroke-width="1.2"/>
<rect x="286.6" y="140.5" width="4.8" height="4.8" fill="none" stroke="#3a3a3a" stroke-width="1.1"/>
<text x="294.2" y="147" font-size="10.3" text-anchor="start" fill="#1a1a1a" >WT</text>
<ellipse cx="289" cy="155.9" rx="2.5" ry="2.9" fill="none" stroke="#3d8be6" stroke-width="1.1"/>
<text x="294.2" y="160" font-size="10.3" text-anchor="start" fill="#1a1a1a" >A405T</text>
<path d="M289 165.5 L291.7 171.1 L286.3 171.1 Z" fill="none" stroke="#ff33ff" stroke-width="1.1" stroke-linejoin="round"/>
<text x="294.2" y="172.7" font-size="10.3" text-anchor="start" fill="#1a1a1a" >R1359W</text>
<path d="M289 186.5 L291.7 180.9 L286.3 180.9 Z" fill="none" stroke="#3ddc3d" stroke-width="1.1" stroke-linejoin="round"/>
<text x="294.2" y="187.5" font-size="10.3" text-anchor="start" fill="#1a1a1a" >R1667W</text>
<path d="M289 193.1 L292.1 196.6 L289 200.1 L285.9 196.6 Z" fill="none" stroke="#e4aa3a" stroke-width="1.1"/>
<text x="294.2" y="200.7" font-size="10.3" text-anchor="start" fill="#1a1a1a" >S1799L</text>
<text transform="translate(14.6,389) rotate(-90)" font-size="10.5" text-anchor="middle" fill="#1a1a1a">Vi(mV)</text>
<text x="31" y="303.3" font-size="10.5" text-anchor="end" fill="#1a1a1a" >0</text>
<line x1="32.2" y1="299.6" x2="37.2" y2="299.6" stroke="#111" stroke-width="1.5" />
<text x="31" y="338.4" font-size="10.5" text-anchor="end" fill="#1a1a1a" >-10</text>
<line x1="32.2" y1="334.7" x2="37.2" y2="334.7" stroke="#111" stroke-width="1.5" />
<text x="31" y="373.5" font-size="10.5" text-anchor="end" fill="#1a1a1a" >-20</text>
<line x1="32.2" y1="369.8" x2="37.2" y2="369.8" stroke="#111" stroke-width="1.5" />
<text x="31" y="408.6" font-size="10.5" text-anchor="end" fill="#1a1a1a" >-30</text>
<line x1="32.2" y1="404.9" x2="37.2" y2="404.9" stroke="#111" stroke-width="1.5" />
<text x="31" y="443.6" font-size="10.5" text-anchor="end" fill="#1a1a1a" >-40</text>
<line x1="32.2" y1="439.9" x2="37.2" y2="439.9" stroke="#111" stroke-width="1.5" />
<text x="31" y="478.7" font-size="10.5" text-anchor="end" fill="#1a1a1a" >-50</text>
<line x1="32.2" y1="475" x2="37.2" y2="475" stroke="#111" stroke-width="1.5" />
<line x1="37.3" y1="299.6" x2="37.3" y2="475" stroke="#111" stroke-width="1.7" />
<line x1="32.2" y1="475" x2="229" y2="475" stroke="#111" stroke-width="1.8" />
<line x1="75.4" y1="300" x2="75.4" y2="474" stroke="#2a2a2a" stroke-width="1.0" stroke-dasharray="1.4 1.25"/>
<line x1="113.4" y1="300" x2="113.4" y2="474" stroke="#2a2a2a" stroke-width="1.0" stroke-dasharray="1.4 1.25"/>
<line x1="151.4" y1="300" x2="151.4" y2="474" stroke="#2a2a2a" stroke-width="1.0" stroke-dasharray="1.4 1.25"/>
<line x1="189.4" y1="300" x2="189.4" y2="474" stroke="#2a2a2a" stroke-width="1.0" stroke-dasharray="1.4 1.25"/>
<line x1="47.2" y1="379.5" x2="47.2" y2="381.2" stroke="#3a3a3a" stroke-width="1.2" />
<line x1="47.2" y1="393.3" x2="47.2" y2="399.9" stroke="#3a3a3a" stroke-width="1.2" />
<line x1="46.1" y1="379.7" x2="48.3" y2="379.7" stroke="#3a3a3a" stroke-width="1.3" />
<line x1="46.1" y1="399.7" x2="48.3" y2="399.7" stroke="#3a3a3a" stroke-width="1.3" />
<rect x="39.85" y="381.8" width="14.7" height="10.9" fill="#ffffff" stroke="#3a3a3a" stroke-width="1.2" stroke-linejoin="round"/>
<line x1="39.85" y1="390.2" x2="54.55" y2="390.2" stroke="#3a3a3a" stroke-width="1.3" />
<line x1="66.2" y1="384" x2="66.2" y2="394.6" stroke="#3a3a3a" stroke-width="1.2" />
<line x1="66.2" y1="404.2" x2="66.2" y2="405.5" stroke="#3a3a3a" stroke-width="1.2" />
<line x1="65.1" y1="384.2" x2="67.3" y2="384.2" stroke="#3a3a3a" stroke-width="1.3" />
<line x1="65.1" y1="405.3" x2="67.3" y2="405.3" stroke="#3a3a3a" stroke-width="1.3" />
<rect x="58.85" y="395.2" width="14.7" height="8.4" fill="#dddddd" stroke="#3a3a3a" stroke-width="1.2" stroke-linejoin="round"/>
<line x1="58.85" y1="401.7" x2="73.55" y2="401.7" stroke="#3a3a3a" stroke-width="1.3" />
<line x1="85.2" y1="384.5" x2="85.2" y2="389.2" stroke="#3d8be6" stroke-width="1.2" />
<line x1="85.2" y1="401.6" x2="85.2" y2="409.2" stroke="#3d8be6" stroke-width="1.2" />
<line x1="84.1" y1="384.7" x2="86.3" y2="384.7" stroke="#3d8be6" stroke-width="1.3" />
<line x1="84.1" y1="409" x2="86.3" y2="409" stroke="#3d8be6" stroke-width="1.3" />
<rect x="77.85" y="389.8" width="14.7" height="11.2" fill="#ffffff" stroke="#3d8be6" stroke-width="1.2" stroke-linejoin="round"/>
<line x1="77.85" y1="395.2" x2="92.55" y2="395.2" stroke="#3d8be6" stroke-width="1.3" />
<line x1="104.2" y1="385.7" x2="104.2" y2="390.5" stroke="#3d8be6" stroke-width="1.2" />
<line x1="104.2" y1="397.4" x2="104.2" y2="407.2" stroke="#3d8be6" stroke-width="1.2" />
<line x1="103.1" y1="385.9" x2="105.3" y2="385.9" stroke="#3d8be6" stroke-width="1.3" />
<line x1="103.1" y1="407" x2="105.3" y2="407" stroke="#3d8be6" stroke-width="1.3" />
<rect x="96.85" y="391.1" width="14.7" height="5.7" fill="#dddddd" stroke="#3d8be6" stroke-width="1.2" stroke-linejoin="round"/>
<line x1="96.85" y1="393.8" x2="111.55" y2="393.8" stroke="#3d8be6" stroke-width="1.3" />
<line x1="123.2" y1="402.4" x2="123.2" y2="406.5" stroke="#ff33ff" stroke-width="1.2" />
<line x1="123.2" y1="435.6" x2="123.2" y2="446.1" stroke="#ff33ff" stroke-width="1.2" />
<line x1="122.1" y1="402.6" x2="124.3" y2="402.6" stroke="#ff33ff" stroke-width="1.3" />
<line x1="122.1" y1="445.9" x2="124.3" y2="445.9" stroke="#ff33ff" stroke-width="1.3" />
<rect x="115.85" y="407.1" width="14.7" height="27.9" fill="#ffffff" stroke="#ff33ff" stroke-width="1.2" stroke-linejoin="round"/>
<line x1="115.85" y1="419.8" x2="130.55" y2="419.8" stroke="#ff33ff" stroke-width="1.3" />
<line x1="142.2" y1="405.7" x2="142.2" y2="408.6" stroke="#ff33ff" stroke-width="1.2" />
<line x1="142.2" y1="427.3" x2="142.2" y2="431" stroke="#ff33ff" stroke-width="1.2" />
<line x1="141.1" y1="405.9" x2="143.3" y2="405.9" stroke="#ff33ff" stroke-width="1.3" />
<line x1="141.1" y1="430.8" x2="143.3" y2="430.8" stroke="#ff33ff" stroke-width="1.3" />
<rect x="134.85" y="409.2" width="14.7" height="17.5" fill="#dddddd" stroke="#ff33ff" stroke-width="1.2" stroke-linejoin="round"/>
<line x1="134.85" y1="415.3" x2="149.55" y2="415.3" stroke="#ff33ff" stroke-width="1.3" />
<line x1="161.2" y1="374.6" x2="161.2" y2="390.5" stroke="#3ddc3d" stroke-width="1.2" />
<line x1="161.2" y1="399.3" x2="161.2" y2="408.1" stroke="#3ddc3d" stroke-width="1.2" />
<line x1="160.1" y1="374.8" x2="162.3" y2="374.8" stroke="#3ddc3d" stroke-width="1.3" />
<line x1="160.1" y1="407.9" x2="162.3" y2="407.9" stroke="#3ddc3d" stroke-width="1.3" />
<rect x="153.85" y="391.1" width="14.7" height="7.6" fill="#ffffff" stroke="#3ddc3d" stroke-width="1.2" stroke-linejoin="round"/>
<line x1="153.85" y1="395.1" x2="168.55" y2="395.1" stroke="#3ddc3d" stroke-width="1.3" />
<line x1="180.2" y1="394.4" x2="180.2" y2="394.7" stroke="#3ddc3d" stroke-width="1.2" />
<line x1="180.2" y1="411.8" x2="180.2" y2="416.9" stroke="#3ddc3d" stroke-width="1.2" />
<line x1="179.1" y1="394.6" x2="181.3" y2="394.6" stroke="#3ddc3d" stroke-width="1.3" />
<line x1="179.1" y1="416.7" x2="181.3" y2="416.7" stroke="#3ddc3d" stroke-width="1.3" />
<rect x="172.85" y="395.3" width="14.7" height="15.9" fill="#dddddd" stroke="#3ddc3d" stroke-width="1.2" stroke-linejoin="round"/>
<line x1="172.85" y1="406.7" x2="187.55" y2="406.7" stroke="#3ddc3d" stroke-width="1.3" />
<line x1="199.2" y1="377.9" x2="199.2" y2="379.4" stroke="#e4aa3a" stroke-width="1.2" />
<line x1="199.2" y1="387.9" x2="199.2" y2="401.9" stroke="#e4aa3a" stroke-width="1.2" />
<line x1="198.1" y1="378.1" x2="200.3" y2="378.1" stroke="#e4aa3a" stroke-width="1.3" />
<line x1="198.1" y1="401.7" x2="200.3" y2="401.7" stroke="#e4aa3a" stroke-width="1.3" />
<rect x="191.85" y="380" width="14.7" height="7.3" fill="#ffffff" stroke="#e4aa3a" stroke-width="1.2" stroke-linejoin="round"/>
<line x1="191.85" y1="383.2" x2="206.55" y2="383.2" stroke="#e4aa3a" stroke-width="1.3" />
<line x1="218.2" y1="373.6" x2="218.2" y2="373.6" stroke="#e4aa3a" stroke-width="1.2" />
<line x1="218.2" y1="383.2" x2="218.2" y2="383.9" stroke="#e4aa3a" stroke-width="1.2" />
<line x1="217.1" y1="373.8" x2="219.3" y2="373.8" stroke="#e4aa3a" stroke-width="1.3" />
<line x1="217.1" y1="383.7" x2="219.3" y2="383.7" stroke="#e4aa3a" stroke-width="1.3" />
<rect x="210.85" y="374.2" width="14.7" height="8.4" fill="#dddddd" stroke="#e4aa3a" stroke-width="1.2" stroke-linejoin="round"/>
<line x1="210.85" y1="381.4" x2="225.55" y2="381.4" stroke="#e4aa3a" stroke-width="1.3" />
<line x1="47.2" y1="475" x2="47.2" y2="480.4" stroke="#111" stroke-width="1.5" />
<text transform="translate(50.6,482.8) rotate(-90)" font-size="10.4" text-anchor="end" fill="#1a1a1a">+e47</text>
<line x1="66.2" y1="475" x2="66.2" y2="480.4" stroke="#111" stroke-width="1.5" />
<text transform="translate(69.6,482.8) rotate(-90)" font-size="10.4" text-anchor="end" fill="#1a1a1a">-e47</text>
<line x1="85.2" y1="475" x2="85.2" y2="480.4" stroke="#111" stroke-width="1.5" />
<text transform="translate(88.6,482.8) rotate(-90)" font-size="10.4" text-anchor="end" fill="#1a1a1a">+e47</text>
<line x1="104.2" y1="475" x2="104.2" y2="480.4" stroke="#111" stroke-width="1.5" />
<text transform="translate(107.6,482.8) rotate(-90)" font-size="10.4" text-anchor="end" fill="#1a1a1a">-e47</text>
<line x1="123.2" y1="475" x2="123.2" y2="480.4" stroke="#111" stroke-width="1.5" />
<text transform="translate(126.6,482.8) rotate(-90)" font-size="10.4" text-anchor="end" fill="#1a1a1a">+e47</text>
<line x1="142.2" y1="475" x2="142.2" y2="480.4" stroke="#111" stroke-width="1.5" />
<text transform="translate(145.6,482.8) rotate(-90)" font-size="10.4" text-anchor="end" fill="#1a1a1a">-e47</text>
<line x1="161.2" y1="475" x2="161.2" y2="480.4" stroke="#111" stroke-width="1.5" />
<text transform="translate(164.6,482.8) rotate(-90)" font-size="10.4" text-anchor="end" fill="#1a1a1a">+e47</text>
<line x1="180.2" y1="475" x2="180.2" y2="480.4" stroke="#111" stroke-width="1.5" />
<text transform="translate(183.6,482.8) rotate(-90)" font-size="10.4" text-anchor="end" fill="#1a1a1a">-e47</text>
<line x1="199.2" y1="475" x2="199.2" y2="480.4" stroke="#111" stroke-width="1.5" />
<text transform="translate(202.6,482.8) rotate(-90)" font-size="10.4" text-anchor="end" fill="#1a1a1a">+e47</text>
<line x1="218.2" y1="475" x2="218.2" y2="480.4" stroke="#111" stroke-width="1.5" />
<text transform="translate(221.6,482.8) rotate(-90)" font-size="10.4" text-anchor="end" fill="#1a1a1a">-e47</text>
<line x1="44" y1="507.3" x2="69.4" y2="507.3" stroke="#111" stroke-width="1.5" />
<text transform="translate(64.9,515.4) rotate(-45)" font-size="10.5" text-anchor="end" fill="#1a1a1a">WT</text>
<path d="M47.7 312 V301.9 H66.1 V312" fill="none" stroke="#111" stroke-width="1.5"/>
<path d="M56.4 289 L54.9 296.2 M58.9 289 L57.4 296.2 M54.1 291.4 H59.8 M53.9 293.9 H59.6" fill="none" stroke="#111" stroke-width="1.25"/>
<line x1="82" y1="507.3" x2="107.4" y2="507.3" stroke="#111" stroke-width="1.5" />
<text transform="translate(102.9,515.4) rotate(-45)" font-size="10.5" text-anchor="end" fill="#1a1a1a">A405T</text>
<path d="M86 312 V301.9 H104.3 V312" fill="none" stroke="#111" stroke-width="1.5"/>
<text x="95.15" y="297.9" font-size="10.5" text-anchor="middle" fill="#111" >n.s.</text>
<line x1="120" y1="507.3" x2="145.4" y2="507.3" stroke="#111" stroke-width="1.5" />
<text transform="translate(140.9,515.4) rotate(-45)" font-size="10.5" text-anchor="end" fill="#1a1a1a">R1359W</text>
<path d="M125 312 V301.9 H143.9 V312" fill="none" stroke="#111" stroke-width="1.5"/>
<text x="134.45" y="297.9" font-size="10.5" text-anchor="middle" fill="#111" >n.s.</text>
<line x1="158" y1="507.3" x2="183.4" y2="507.3" stroke="#111" stroke-width="1.5" />
<text transform="translate(178.9,515.4) rotate(-45)" font-size="10.5" text-anchor="end" fill="#1a1a1a">R1667W</text>
<path d="M161.3 312 V301.9 H179.7 V312" fill="none" stroke="#111" stroke-width="1.5"/>
<text x="170.5" y="297.9" font-size="10.5" text-anchor="middle" fill="#111" >n.s.</text>
<line x1="196" y1="507.3" x2="221.4" y2="507.3" stroke="#111" stroke-width="1.5" />
<text transform="translate(216.9,515.4) rotate(-45)" font-size="10.5" text-anchor="end" fill="#1a1a1a">S1799L</text>
<path d="M197.6 312 V301.9 H216 V312" fill="none" stroke="#111" stroke-width="1.5"/>
<text x="206.8" y="297.9" font-size="10.5" text-anchor="middle" fill="#111" >n.s.</text>
<polygon points="118.35,391.95 119.02,393.57 120.78,393.71 119.44,394.85 119.85,396.56 118.35,395.65 116.85,396.56 117.26,394.85 115.92,393.71 117.68,393.57" fill="#111"/>
<polygon points="123.2,391.95 123.87,393.57 125.63,393.71 124.29,394.85 124.7,396.56 123.2,395.65 121.7,396.56 122.11,394.85 120.77,393.71 122.53,393.57" fill="#111"/>
<polygon points="128.05,391.95 128.72,393.57 130.48,393.71 129.14,394.85 129.55,396.56 128.05,395.65 126.55,396.56 126.96,394.85 125.62,393.71 127.38,393.57" fill="#111"/>
<polygon points="137.35,397.45 138.02,399.07 139.78,399.21 138.44,400.35 138.85,402.06 137.35,401.15 135.85,402.06 136.26,400.35 134.92,399.21 136.68,399.07" fill="#111"/>
<polygon points="142.2,397.45 142.87,399.07 144.63,399.21 143.29,400.35 143.7,402.06 142.2,401.15 140.7,402.06 141.11,400.35 139.77,399.21 141.53,399.07" fill="#111"/>
<polygon points="147.05,397.45 147.72,399.07 149.48,399.21 148.14,400.35 148.55,402.06 147.05,401.15 145.55,402.06 145.96,400.35 144.62,399.21 146.38,399.07" fill="#111"/>
<polygon points="213.35,363.65 214.02,365.27 215.78,365.41 214.44,366.55 214.85,368.26 213.35,367.35 211.85,368.26 212.26,366.55 210.92,365.41 212.68,365.27" fill="#111"/>
<polygon points="218.2,363.65 218.87,365.27 220.63,365.41 219.29,366.55 219.7,368.26 218.2,367.35 216.7,368.26 217.11,366.55 215.77,365.41 217.53,365.27" fill="#111"/>
<polygon points="223.05,363.65 223.72,365.27 225.48,365.41 224.14,366.55 224.55,368.26 223.05,367.35 221.55,368.26 221.96,366.55 220.62,365.41 222.38,365.27" fill="#111"/>
<text transform="translate(256.6,389) rotate(-90)" font-size="10.5" text-anchor="middle" fill="#1a1a1a">ki(mV)</text>
<text x="273" y="304.1" font-size="10.5" text-anchor="end" fill="#1a1a1a" >15</text>
<line x1="274.2" y1="300.4" x2="279.2" y2="300.4" stroke="#111" stroke-width="1.5" />
<text x="273" y="362.4" font-size="10.5" text-anchor="end" fill="#1a1a1a" >10</text>
<line x1="274.2" y1="358.7" x2="279.2" y2="358.7" stroke="#111" stroke-width="1.5" />
<text x="273" y="420.6" font-size="10.5" text-anchor="end" fill="#1a1a1a" >5</text>
<line x1="274.2" y1="416.9" x2="279.2" y2="416.9" stroke="#111" stroke-width="1.5" />
<text x="273" y="478.7" font-size="10.5" text-anchor="end" fill="#1a1a1a" >0</text>
<line x1="274.2" y1="475" x2="279.2" y2="475" stroke="#111" stroke-width="1.5" />
<line x1="279.3" y1="299.6" x2="279.3" y2="475" stroke="#111" stroke-width="1.7" />
<line x1="274.2" y1="475" x2="471" y2="475" stroke="#111" stroke-width="1.8" />
<line x1="318.25" y1="300" x2="318.25" y2="474" stroke="#2a2a2a" stroke-width="1.0" stroke-dasharray="1.4 1.25"/>
<line x1="356.45" y1="300" x2="356.45" y2="474" stroke="#2a2a2a" stroke-width="1.0" stroke-dasharray="1.4 1.25"/>
<line x1="394.65" y1="300" x2="394.65" y2="474" stroke="#2a2a2a" stroke-width="1.0" stroke-dasharray="1.4 1.25"/>
<line x1="432.85" y1="300" x2="432.85" y2="474" stroke="#2a2a2a" stroke-width="1.0" stroke-dasharray="1.4 1.25"/>
<line x1="289.3" y1="378.7" x2="289.3" y2="388.6" stroke="#3a3a3a" stroke-width="1.2" />
<line x1="289.3" y1="395.4" x2="289.3" y2="401" stroke="#3a3a3a" stroke-width="1.2" />
<line x1="288.2" y1="378.9" x2="290.4" y2="378.9" stroke="#3a3a3a" stroke-width="1.3" />
<line x1="288.2" y1="400.8" x2="290.4" y2="400.8" stroke="#3a3a3a" stroke-width="1.3" />
<rect x="281.95" y="389.2" width="14.7" height="5.6" fill="#ffffff" stroke="#3a3a3a" stroke-width="1.2" stroke-linejoin="round"/>
<line x1="281.95" y1="390" x2="296.65" y2="390" stroke="#3a3a3a" stroke-width="1.3" />
<line x1="308.4" y1="392.9" x2="308.4" y2="398.2" stroke="#3a3a3a" stroke-width="1.2" />
<line x1="308.4" y1="410.2" x2="308.4" y2="411.7" stroke="#3a3a3a" stroke-width="1.2" />
<line x1="307.3" y1="393.1" x2="309.5" y2="393.1" stroke="#3a3a3a" stroke-width="1.3" />
<line x1="307.3" y1="411.5" x2="309.5" y2="411.5" stroke="#3a3a3a" stroke-width="1.3" />
<rect x="301.05" y="398.8" width="14.7" height="10.8" fill="#dddddd" stroke="#3a3a3a" stroke-width="1.2" stroke-linejoin="round"/>
<line x1="301.05" y1="405.3" x2="315.75" y2="405.3" stroke="#3a3a3a" stroke-width="1.3" />
<line x1="327.5" y1="384.5" x2="327.5" y2="386.4" stroke="#3d8be6" stroke-width="1.2" />
<line x1="327.5" y1="392.7" x2="327.5" y2="398.2" stroke="#3d8be6" stroke-width="1.2" />
<line x1="326.4" y1="384.7" x2="328.6" y2="384.7" stroke="#3d8be6" stroke-width="1.3" />
<line x1="326.4" y1="398" x2="328.6" y2="398" stroke="#3d8be6" stroke-width="1.3" />
<rect x="320.15" y="387" width="14.7" height="5.1" fill="#ffffff" stroke="#3d8be6" stroke-width="1.2" stroke-linejoin="round"/>
<line x1="320.15" y1="391.8" x2="334.85" y2="391.8" stroke="#3d8be6" stroke-width="1.3" />
<line x1="346.6" y1="385.9" x2="346.6" y2="390.5" stroke="#3d8be6" stroke-width="1.2" />
<line x1="346.6" y1="398.9" x2="346.6" y2="408.7" stroke="#3d8be6" stroke-width="1.2" />
<line x1="345.5" y1="386.1" x2="347.7" y2="386.1" stroke="#3d8be6" stroke-width="1.3" />
<line x1="345.5" y1="408.5" x2="347.7" y2="408.5" stroke="#3d8be6" stroke-width="1.3" />
<rect x="339.25" y="391.1" width="14.7" height="7.2" fill="#dddddd" stroke="#3d8be6" stroke-width="1.2" stroke-linejoin="round"/>
<line x1="339.25" y1="396.5" x2="353.95" y2="396.5" stroke="#3d8be6" stroke-width="1.3" />
<line x1="365.7" y1="345.7" x2="365.7" y2="351.8" stroke="#ff33ff" stroke-width="1.2" />
<line x1="365.7" y1="365.2" x2="365.7" y2="376.9" stroke="#ff33ff" stroke-width="1.2" />
<line x1="364.6" y1="345.9" x2="366.8" y2="345.9" stroke="#ff33ff" stroke-width="1.3" />
<line x1="364.6" y1="376.7" x2="366.8" y2="376.7" stroke="#ff33ff" stroke-width="1.3" />
<rect x="358.35" y="352.4" width="14.7" height="12.2" fill="#ffffff" stroke="#ff33ff" stroke-width="1.2" stroke-linejoin="round"/>
<line x1="358.35" y1="356.2" x2="373.05" y2="356.2" stroke="#ff33ff" stroke-width="1.3" />
<line x1="384.8" y1="366.8" x2="384.8" y2="371.9" stroke="#ff33ff" stroke-width="1.2" />
<line x1="384.8" y1="394" x2="384.8" y2="402.3" stroke="#ff33ff" stroke-width="1.2" />
<line x1="383.7" y1="367" x2="385.9" y2="367" stroke="#ff33ff" stroke-width="1.3" />
<line x1="383.7" y1="402.1" x2="385.9" y2="402.1" stroke="#ff33ff" stroke-width="1.3" />
<rect x="377.45" y="372.5" width="14.7" height="20.9" fill="#dddddd" stroke="#ff33ff" stroke-width="1.2" stroke-linejoin="round"/>
<line x1="377.45" y1="379.2" x2="392.15" y2="379.2" stroke="#ff33ff" stroke-width="1.3" />
<line x1="403.9" y1="379" x2="403.9" y2="391.8" stroke="#3ddc3d" stroke-width="1.2" />
<line x1="403.9" y1="400" x2="403.9" y2="408.2" stroke="#3ddc3d" stroke-width="1.2" />
<line x1="402.8" y1="379.2" x2="405" y2="379.2" stroke="#3ddc3d" stroke-width="1.3" />
<line x1="402.8" y1="408" x2="405" y2="408" stroke="#3ddc3d" stroke-width="1.3" />
<rect x="396.55" y="392.4" width="14.7" height="7" fill="#ffffff" stroke="#3ddc3d" stroke-width="1.2" stroke-linejoin="round"/>
<line x1="396.55" y1="399.1" x2="411.25" y2="399.1" stroke="#3ddc3d" stroke-width="1.3" />
<line x1="423" y1="392" x2="423" y2="392.3" stroke="#3ddc3d" stroke-width="1.2" />
<line x1="423" y1="405" x2="423" y2="410.5" stroke="#3ddc3d" stroke-width="1.2" />
<line x1="421.9" y1="392.2" x2="424.1" y2="392.2" stroke="#3ddc3d" stroke-width="1.3" />
<line x1="421.9" y1="410.3" x2="424.1" y2="410.3" stroke="#3ddc3d" stroke-width="1.3" />
<rect x="415.65" y="392.9" width="14.7" height="11.5" fill="#dddddd" stroke="#3ddc3d" stroke-width="1.2" stroke-linejoin="round"/>
<line x1="415.65" y1="402" x2="430.35" y2="402" stroke="#3ddc3d" stroke-width="1.3" />
<line x1="442.1" y1="342.2" x2="442.1" y2="357.3" stroke="#e4aa3a" stroke-width="1.2" />
<line x1="442.1" y1="382.3" x2="442.1" y2="394.1" stroke="#e4aa3a" stroke-width="1.2" />
<line x1="441" y1="342.4" x2="443.2" y2="342.4" stroke="#e4aa3a" stroke-width="1.3" />
<line x1="441" y1="393.9" x2="443.2" y2="393.9" stroke="#e4aa3a" stroke-width="1.3" />
<rect x="434.75" y="357.9" width="14.7" height="23.8" fill="#ffffff" stroke="#e4aa3a" stroke-width="1.2" stroke-linejoin="round"/>
<line x1="434.75" y1="370.2" x2="449.45" y2="370.2" stroke="#e4aa3a" stroke-width="1.3" />
<line x1="461.2" y1="373.6" x2="461.2" y2="386.4" stroke="#e4aa3a" stroke-width="1.2" />
<line x1="461.2" y1="394.1" x2="461.2" y2="401.9" stroke="#e4aa3a" stroke-width="1.2" />
<line x1="460.1" y1="373.8" x2="462.3" y2="373.8" stroke="#e4aa3a" stroke-width="1.3" />
<line x1="460.1" y1="401.7" x2="462.3" y2="401.7" stroke="#e4aa3a" stroke-width="1.3" />
<rect x="453.85" y="387" width="14.7" height="6.5" fill="#dddddd" stroke="#e4aa3a" stroke-width="1.2" stroke-linejoin="round"/>
<line x1="453.85" y1="390" x2="468.55" y2="390" stroke="#e4aa3a" stroke-width="1.3" />
<line x1="289.3" y1="475" x2="289.3" y2="480.4" stroke="#111" stroke-width="1.5" />
<text transform="translate(292.7,482.8) rotate(-90)" font-size="10.4" text-anchor="end" fill="#1a1a1a">+e47</text>
<line x1="308.4" y1="475" x2="308.4" y2="480.4" stroke="#111" stroke-width="1.5" />
<text transform="translate(311.8,482.8) rotate(-90)" font-size="10.4" text-anchor="end" fill="#1a1a1a">-e47</text>
<line x1="327.5" y1="475" x2="327.5" y2="480.4" stroke="#111" stroke-width="1.5" />
<text transform="translate(330.9,482.8) rotate(-90)" font-size="10.4" text-anchor="end" fill="#1a1a1a">+e47</text>
<line x1="346.6" y1="475" x2="346.6" y2="480.4" stroke="#111" stroke-width="1.5" />
<text transform="translate(350,482.8) rotate(-90)" font-size="10.4" text-anchor="end" fill="#1a1a1a">-e47</text>
<line x1="365.7" y1="475" x2="365.7" y2="480.4" stroke="#111" stroke-width="1.5" />
<text transform="translate(369.1,482.8) rotate(-90)" font-size="10.4" text-anchor="end" fill="#1a1a1a">+e47</text>
<line x1="384.8" y1="475" x2="384.8" y2="480.4" stroke="#111" stroke-width="1.5" />
<text transform="translate(388.2,482.8) rotate(-90)" font-size="10.4" text-anchor="end" fill="#1a1a1a">-e47</text>
<line x1="403.9" y1="475" x2="403.9" y2="480.4" stroke="#111" stroke-width="1.5" />
<text transform="translate(407.3,482.8) rotate(-90)" font-size="10.4" text-anchor="end" fill="#1a1a1a">+e47</text>
<line x1="423" y1="475" x2="423" y2="480.4" stroke="#111" stroke-width="1.5" />
<text transform="translate(426.4,482.8) rotate(-90)" font-size="10.4" text-anchor="end" fill="#1a1a1a">-e47</text>
<line x1="442.1" y1="475" x2="442.1" y2="480.4" stroke="#111" stroke-width="1.5" />
<text transform="translate(445.5,482.8) rotate(-90)" font-size="10.4" text-anchor="end" fill="#1a1a1a">+e47</text>
<line x1="461.2" y1="475" x2="461.2" y2="480.4" stroke="#111" stroke-width="1.5" />
<text transform="translate(464.6,482.8) rotate(-90)" font-size="10.4" text-anchor="end" fill="#1a1a1a">-e47</text>
<line x1="286.1" y1="507.3" x2="311.6" y2="507.3" stroke="#111" stroke-width="1.5" />
<text transform="translate(307.05,515.4) rotate(-45)" font-size="10.5" text-anchor="end" fill="#1a1a1a">WT</text>
<path d="M290.2 312 V301.9 H308.6 V312" fill="none" stroke="#111" stroke-width="1.5"/>
<path d="M293.25 291.9 L291.75 299.1 M295.75 291.9 L294.25 299.1 M290.95 294.3 H296.65 M290.75 296.8 H296.45" fill="none" stroke="#111" stroke-width="1.25"/>
<path d="M298.9 291.9 L297.4 299.1 M301.4 291.9 L299.9 299.1 M296.6 294.3 H302.3 M296.4 296.8 H302.1" fill="none" stroke="#111" stroke-width="1.25"/>
<path d="M304.55 291.9 L303.05 299.1 M307.05 291.9 L305.55 299.1 M302.25 294.3 H307.95 M302.05 296.8 H307.75" fill="none" stroke="#111" stroke-width="1.25"/>
<line x1="324.3" y1="507.3" x2="349.8" y2="507.3" stroke="#111" stroke-width="1.5" />
<text transform="translate(345.25,515.4) rotate(-45)" font-size="10.5" text-anchor="end" fill="#1a1a1a">A405T</text>
<path d="M328.5 312 V301.9 H346.8 V312" fill="none" stroke="#111" stroke-width="1.5"/>
<text x="337.65" y="297.9" font-size="10.5" text-anchor="middle" fill="#111" >n.s.</text>
<line x1="362.5" y1="507.3" x2="388" y2="507.3" stroke="#111" stroke-width="1.5" />
<text transform="translate(383.45,515.4) rotate(-45)" font-size="10.5" text-anchor="end" fill="#1a1a1a">R1359W</text>
<path d="M367.5 312 V301.9 H386.4 V312" fill="none" stroke="#111" stroke-width="1.5"/>
<path d="M370.8 291.9 L369.3 299.1 M373.3 291.9 L371.8 299.1 M368.5 294.3 H374.2 M368.3 296.8 H374" fill="none" stroke="#111" stroke-width="1.25"/>
<path d="M376.45 291.9 L374.95 299.1 M378.95 291.9 L377.45 299.1 M374.15 294.3 H379.85 M373.95 296.8 H379.65" fill="none" stroke="#111" stroke-width="1.25"/>
<path d="M382.1 291.9 L380.6 299.1 M384.6 291.9 L383.1 299.1 M379.8 294.3 H385.5 M379.6 296.8 H385.3" fill="none" stroke="#111" stroke-width="1.25"/>
<line x1="400.7" y1="507.3" x2="426.2" y2="507.3" stroke="#111" stroke-width="1.5" />
<text transform="translate(421.65,515.4) rotate(-45)" font-size="10.5" text-anchor="end" fill="#1a1a1a">R1667W</text>
<path d="M403.8 312 V301.9 H422.2 V312" fill="none" stroke="#111" stroke-width="1.5"/>
<text x="413" y="297.9" font-size="10.5" text-anchor="middle" fill="#111" >n.s.</text>
<line x1="438.9" y1="507.3" x2="464.4" y2="507.3" stroke="#111" stroke-width="1.5" />
<text transform="translate(459.85,515.4) rotate(-45)" font-size="10.5" text-anchor="end" fill="#1a1a1a">S1799L</text>
<path d="M440.1 312 V301.9 H458.5 V312" fill="none" stroke="#111" stroke-width="1.5"/>
<path d="M448.8 289 L447.3 296.2 M451.3 289 L449.8 296.2 M446.5 291.4 H452.2 M446.3 293.9 H452" fill="none" stroke="#111" stroke-width="1.25"/>
<polygon points="360.85,338.45 361.52,340.07 363.28,340.21 361.94,341.35 362.35,343.06 360.85,342.15 359.35,343.06 359.76,341.35 358.42,340.21 360.18,340.07" fill="#111"/>
<polygon points="365.7,338.45 366.37,340.07 368.13,340.21 366.79,341.35 367.2,343.06 365.7,342.15 364.2,343.06 364.61,341.35 363.27,340.21 365.03,340.07" fill="#111"/>
<polygon points="370.55,338.45 371.22,340.07 372.98,340.21 371.64,341.35 372.05,343.06 370.55,342.15 369.05,343.06 369.46,341.35 368.12,340.21 369.88,340.07" fill="#111"/>
<polygon points="379.95,358.75 380.62,360.37 382.38,360.51 381.04,361.65 381.45,363.36 379.95,362.45 378.45,363.36 378.86,361.65 377.52,360.51 379.28,360.37" fill="#111"/>
<polygon points="384.8,358.75 385.47,360.37 387.23,360.51 385.89,361.65 386.3,363.36 384.8,362.45 383.3,363.36 383.71,361.65 382.37,360.51 384.13,360.37" fill="#111"/>
<polygon points="389.65,358.75 390.32,360.37 392.08,360.51 390.74,361.65 391.15,363.36 389.65,362.45 388.15,363.36 388.56,361.65 387.22,360.51 388.98,360.37" fill="#111"/>
<polygon points="439.68,333.45 440.35,335.07 442.1,335.21 440.77,336.35 441.17,338.06 439.68,337.15 438.18,338.06 438.58,336.35 437.25,335.21 439,335.07" fill="#111"/>
<polygon points="444.53,333.45 445.2,335.07 446.95,335.21 445.62,336.35 446.02,338.06 444.53,337.15 443.03,338.06 443.43,336.35 442.1,335.21 443.85,335.07" fill="#111"/>
<polygon points="458.78,365.85 459.45,367.47 461.2,367.61 459.87,368.75 460.27,370.46 458.78,369.55 457.28,370.46 457.68,368.75 456.35,367.61 458.1,367.47" fill="#111"/>
<polygon points="463.63,365.85 464.3,367.47 466.05,367.61 464.72,368.75 465.12,370.46 463.63,369.55 462.13,370.46 462.53,368.75 461.2,367.61 462.95,367.47" fill="#111"/>
</svg></body></html>
